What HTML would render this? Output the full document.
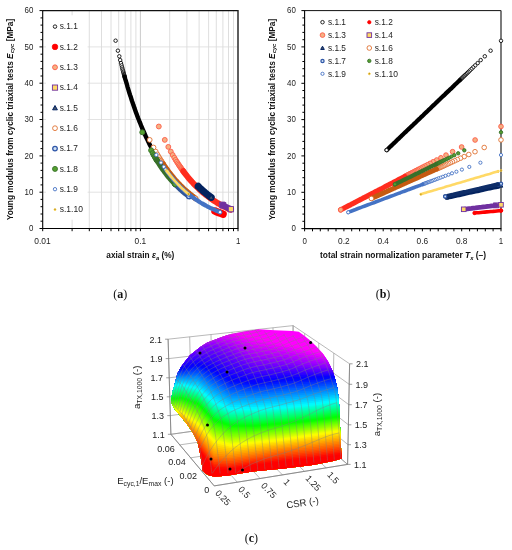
<!DOCTYPE html>
<html lang="en"><head><meta charset="utf-8"><title>Figure</title>
<style>html,body{margin:0;padding:0;background:#fff}svg{display:block}</style></head><body>
<svg width="512" height="550" viewBox="0 0 512 550">
<rect width="512" height="550" fill="#fff"/>
<defs>
<marker id="m1a" markerUnits="userSpaceOnUse" markerWidth="14" markerHeight="14" refX="7" refY="7" viewBox="0 0 14 14" overflow="visible"><circle cx="7" cy="7" r="1.75" fill="#fff" stroke="#000" stroke-width="0.85"/></marker>
<marker id="m2a" markerUnits="userSpaceOnUse" markerWidth="14" markerHeight="14" refX="7" refY="7" viewBox="0 0 14 14" overflow="visible"><circle cx="7" cy="7" r="2.80" fill="#ff0000" stroke="#ff0000" stroke-width="0.70"/></marker>
<marker id="m3a" markerUnits="userSpaceOnUse" markerWidth="14" markerHeight="14" refX="7" refY="7" viewBox="0 0 14 14" overflow="visible"><circle cx="7" cy="7" r="2.45" fill="#f4b183" stroke="#ff5a46" stroke-width="0.90"/></marker>
<marker id="m4a" markerUnits="userSpaceOnUse" markerWidth="14" markerHeight="14" refX="7" refY="7" viewBox="0 0 14 14" overflow="visible"><rect x="4.40" y="4.40" width="5.20" height="5.20" fill="#ffd966" stroke="#7030a0" stroke-width="0.9"/></marker>
<marker id="m5a" markerUnits="userSpaceOnUse" markerWidth="14" markerHeight="14" refX="7" refY="7" viewBox="0 0 14 14" overflow="visible"><path d="M7 4.60 L9.40 8.92 L4.60 8.92 Z" fill="#44546a" stroke="#002060" stroke-width="1"/></marker>
<marker id="m6a" markerUnits="userSpaceOnUse" markerWidth="14" markerHeight="14" refX="7" refY="7" viewBox="0 0 14 14" overflow="visible"><circle cx="7" cy="7" r="2.40" fill="#fff" stroke="#e07030" stroke-width="0.90"/></marker>
<marker id="m7a" markerUnits="userSpaceOnUse" markerWidth="14" markerHeight="14" refX="7" refY="7" viewBox="0 0 14 14" overflow="visible"><circle cx="7" cy="7" r="2.30" fill="#cfe0f3" stroke="#2f57a8" stroke-width="1.25"/></marker>
<marker id="m8a" markerUnits="userSpaceOnUse" markerWidth="14" markerHeight="14" refX="7" refY="7" viewBox="0 0 14 14" overflow="visible"><circle cx="7" cy="7" r="2.50" fill="#55a030" stroke="#38702a" stroke-width="0.90"/></marker>
<marker id="m9a" markerUnits="userSpaceOnUse" markerWidth="14" markerHeight="14" refX="7" refY="7" viewBox="0 0 14 14" overflow="visible"><circle cx="7" cy="7" r="1.70" fill="#fff" stroke="#4472c4" stroke-width="0.90"/></marker>
<marker id="m10a" markerUnits="userSpaceOnUse" markerWidth="14" markerHeight="14" refX="7" refY="7" viewBox="0 0 14 14" overflow="visible"><circle cx="7" cy="7" r="1.0" fill="#9c7400" stroke="#ffd552" stroke-width="0.8"/></marker>
<marker id="m1b" markerUnits="userSpaceOnUse" markerWidth="14" markerHeight="14" refX="7" refY="7" viewBox="0 0 14 14" overflow="visible"><circle cx="7" cy="7" r="1.75" fill="#fff" stroke="#000" stroke-width="0.85"/></marker>
<marker id="m2b" markerUnits="userSpaceOnUse" markerWidth="14" markerHeight="14" refX="7" refY="7" viewBox="0 0 14 14" overflow="visible"><circle cx="7" cy="7" r="1.70" fill="#ff0000" stroke="#ff0000" stroke-width="0.70"/></marker>
<marker id="m3b" markerUnits="userSpaceOnUse" markerWidth="14" markerHeight="14" refX="7" refY="7" viewBox="0 0 14 14" overflow="visible"><circle cx="7" cy="7" r="2.35" fill="#f4b183" stroke="#ff5a46" stroke-width="0.90"/></marker>
<marker id="m4b" markerUnits="userSpaceOnUse" markerWidth="14" markerHeight="14" refX="7" refY="7" viewBox="0 0 14 14" overflow="visible"><rect x="4.70" y="4.70" width="4.60" height="4.60" fill="#ffd966" stroke="#7030a0" stroke-width="0.9"/></marker>
<marker id="m5b" markerUnits="userSpaceOnUse" markerWidth="14" markerHeight="14" refX="7" refY="7" viewBox="0 0 14 14" overflow="visible"><path d="M7 5.20 L8.80 8.44 L5.20 8.44 Z" fill="#44546a" stroke="#002060" stroke-width="1"/></marker>
<marker id="m6b" markerUnits="userSpaceOnUse" markerWidth="14" markerHeight="14" refX="7" refY="7" viewBox="0 0 14 14" overflow="visible"><circle cx="7" cy="7" r="2.30" fill="#fff" stroke="#e07030" stroke-width="0.90"/></marker>
<marker id="m7b" markerUnits="userSpaceOnUse" markerWidth="14" markerHeight="14" refX="7" refY="7" viewBox="0 0 14 14" overflow="visible"><circle cx="7" cy="7" r="1.60" fill="#cfe0f3" stroke="#2f57a8" stroke-width="1.25"/></marker>
<marker id="m8b" markerUnits="userSpaceOnUse" markerWidth="14" markerHeight="14" refX="7" refY="7" viewBox="0 0 14 14" overflow="visible"><circle cx="7" cy="7" r="1.70" fill="#55a030" stroke="#38702a" stroke-width="0.90"/></marker>
<marker id="m9b" markerUnits="userSpaceOnUse" markerWidth="14" markerHeight="14" refX="7" refY="7" viewBox="0 0 14 14" overflow="visible"><circle cx="7" cy="7" r="1.60" fill="#fff" stroke="#4472c4" stroke-width="0.90"/></marker>
<marker id="m10b" markerUnits="userSpaceOnUse" markerWidth="14" markerHeight="14" refX="7" refY="7" viewBox="0 0 14 14" overflow="visible"><circle cx="7" cy="7" r="1.0" fill="#9c7400" stroke="#ffd552" stroke-width="0.8"/></marker>
</defs>
<g id="chart-a">
<path d="M72.1 10.6V228.5M89.3 10.6V228.5M101.5 10.6V228.5M111.0 10.6V228.5M118.7 10.6V228.5M125.2 10.6V228.5M130.9 10.6V228.5M135.9 10.6V228.5M169.7 10.6V228.5M186.9 10.6V228.5M199.1 10.6V228.5M208.6 10.6V228.5M216.3 10.6V228.5M222.9 10.6V228.5M228.5 10.6V228.5M233.5 10.6V228.5" stroke="#d6d6d6" stroke-width="0.8" fill="none"/>
<path d="M140.4 10.6V228.5" stroke="#c4c4c4" stroke-width="0.9" fill="none"/>
<path d="M42.7 192.2H238.0M42.7 155.9H238.0M42.7 119.5H238.0M42.7 83.2H238.0M42.7 46.9H238.0" stroke="#dcdcdc" stroke-width="0.8" fill="none"/>
<rect x="46" y="15.3" width="41.6" height="204.4" fill="#fff"/>
<clipPath id="ca"><rect x="42.7" y="10.6" width="195.3" height="217.9"/></clipPath>
<path d="M42.7 10.6H238.0" stroke="#111" stroke-width="1.1" fill="none"/>
<path d="M238.0 10.1V228.5" stroke="#222" stroke-width="1.45" fill="none"/>
<polyline points="115.6,40.7 117.9,50.7 119.3,56.3 120.2,60.1 121.0,63.1 121.6,65.4 122.1,67.4 122.5,69.1 122.9,70.5 123.3,71.8 123.6,73.0 123.9,74.1 124.2,75.0 124.4,75.9 124.6,76.7" fill="none" stroke="none" marker-start="url(#m1a)" marker-mid="url(#m1a)" marker-end="url(#m1a)"/>
<polyline points="124.6,76.7 125.2,78.9 125.9,81.2 126.5,83.2 127.1,85.2 127.6,87.1 128.3,89.3 128.9,91.3 129.5,93.3 130.1,95.2 130.8,97.1 131.4,99.1 132.0,101.0 132.7,102.9 133.3,104.8 134.0,106.7 134.6,108.6 135.3,110.5 136.0,112.4 136.7,114.3 137.4,116.2 138.1,118.1 138.9,120.0 139.6,121.9 140.4,123.7 141.1,125.6 141.9,127.4 142.7,129.3 143.5,131.2 144.3,133.0 145.1,134.8 145.9,136.7 146.8,138.5 147.7,140.3 148.5,142.1 149.4,143.9 150.3,145.7 151.3,147.5 152.2,149.3 152.6,150.1" fill="none" stroke="#000000" stroke-width="4.4" stroke-linecap="round" stroke-linejoin="round"/>
<polyline points="152.6,150.1 152.6,150.1" fill="none" stroke="none" marker-start="url(#m1a)"/>
<polyline points="215.1,211.1 215.1,211.1" fill="none" stroke="none" marker-start="url(#m2a)" marker-mid="url(#m2a)" marker-end="url(#m2a)"/>
<polyline points="215.1,211.1 217.0,211.9 218.9,212.6 220.7,213.3 222.6,214.0 223.0,214.1" fill="none" stroke="#ff0000" stroke-width="7.6" stroke-linecap="round" stroke-linejoin="round"/>
<polyline points="223.0,214.1 223.0,214.1" fill="none" stroke="none" marker-start="url(#m2a)"/>
<polyline points="158.8,126.5 164.8,139.9 168.3,146.9 170.8,151.6 172.7,155.0 174.3,157.7 175.6,159.9 176.8,161.7 177.8,163.3 178.7,164.7 179.5,165.9 180.3,167.0 181.0,168.0 181.6,168.9 182.2,169.8 182.8,170.5 183.3,171.2" fill="none" stroke="none" marker-start="url(#m3a)" marker-mid="url(#m3a)" marker-end="url(#m3a)"/>
<polyline points="183.3,171.2 184.7,173.1 186.3,175.1 187.6,176.8 189.0,178.5 190.5,180.2 191.9,181.8 193.3,183.3 194.8,184.8 196.3,186.3 197.7,187.7 199.2,189.2 200.7,190.5 202.3,191.9 203.8,193.2 205.4,194.5 207.0,195.7 208.6,196.9 210.2,198.1 211.8,199.3 213.5,200.4 215.2,201.5 216.9,202.6 218.6,203.6 220.4,204.6 222.1,205.6 223.9,206.5 225.7,207.4 227.5,208.3 229.3,209.2 230.6,209.7" fill="none" stroke="#ff2c1e" stroke-width="6.0" stroke-linecap="round" stroke-linejoin="round"/>
<polyline points="230.6,209.7 230.6,209.7" fill="none" stroke="none" marker-start="url(#m3a)"/>
<polyline points="222.0,204.7 223.0,205.3 223.1,205.3" fill="none" stroke="none" marker-start="url(#m4a)" marker-mid="url(#m4a)" marker-end="url(#m4a)"/>
<polyline points="223.1,205.3 224.8,206.3 226.6,207.2 228.4,208.1 230.3,208.9 230.9,209.2" fill="none" stroke="#7030a0" stroke-width="6.2" stroke-linecap="round" stroke-linejoin="round"/>
<polyline points="230.9,209.2 230.9,209.2" fill="none" stroke="none" marker-start="url(#m4a)"/>
<polyline points="197.5,185.6 198.2,186.3 198.2,186.3" fill="none" stroke="none" marker-start="url(#m5a)" marker-mid="url(#m5a)" marker-end="url(#m5a)"/>
<polyline points="198.2,186.3 199.6,187.7 201.1,189.1 202.6,190.5 204.1,191.8 205.7,193.1 207.2,194.4 208.8,195.7 210.5,196.9 211.2,197.4" fill="none" stroke="#04235f" stroke-width="7.0" stroke-linecap="round" stroke-linejoin="round"/>
<polyline points="211.2,197.4 211.2,197.4" fill="none" stroke="none" marker-start="url(#m5a)"/>
<polyline points="149.7,139.9 153.5,147.5 155.7,151.6 157.3,154.4 158.5,156.5 159.5,158.2 160.4,159.6 161.1,160.7 161.7,161.8 162.3,162.7 162.8,163.5 163.3,164.2" fill="none" stroke="none" marker-start="url(#m6a)" marker-mid="url(#m6a)" marker-end="url(#m6a)"/>
<polyline points="163.3,164.2 164.5,166.0 165.8,167.9 167.1,169.7 168.3,171.4 169.6,173.1 170.9,174.7 172.2,176.4 173.5,177.9 174.8,179.5 176.1,181.0 177.5,182.5 178.9,183.9 180.3,185.4 181.7,186.8 183.1,188.2 184.6,189.6 186.1,190.9 187.6,192.2 189.2,193.5 190.7,194.8 192.3,196.0 193.9,197.2 195.5,198.4" fill="none" stroke="#c55a11" stroke-width="5.6" stroke-linecap="round" stroke-linejoin="round"/>
<polyline points="195.5,198.4 195.5,198.4" fill="none" stroke="none" marker-start="url(#m6a)"/>
<polyline points="174.8,183.6 175.5,184.3 175.5,184.3" fill="none" stroke="none" marker-start="url(#m7a)" marker-mid="url(#m7a)" marker-end="url(#m7a)"/>
<polyline points="175.5,184.3 176.9,185.8 178.4,187.2 179.8,188.6 181.3,190.0 182.8,191.3 184.4,192.7 185.9,193.9 187.5,195.2 189.0,196.4" fill="none" stroke="#2f5597" stroke-width="5.6" stroke-linecap="round" stroke-linejoin="round"/>
<polyline points="189.0,196.4 189.0,196.4" fill="none" stroke="none" marker-start="url(#m7a)"/>
<polyline points="142.3,132.3 151.1,150.3 152.7,153.2 153.8,155.2 154.7,156.6 155.3,157.7 155.9,158.7 156.4,159.5 156.9,160.2" fill="none" stroke="none" marker-start="url(#m8a)" marker-mid="url(#m8a)" marker-end="url(#m8a)"/>
<polyline points="156.9,160.2 158.0,162.0 159.2,163.8 160.3,165.6 161.6,167.4 162.8,169.2 164.1,170.9 165.3,172.6 166.6,174.2 167.8,175.8 169.1,177.3 170.4,178.9 171.7,180.4 173.1,181.9 174.4,183.4 175.2,184.2" fill="none" stroke="#38702a" stroke-width="5.6" stroke-linecap="round" stroke-linejoin="round"/>
<polyline points="175.2,184.2 175.2,184.2" fill="none" stroke="none" marker-start="url(#m8a)"/>
<polyline points="156.3,154.9 161.0,162.6 163.8,166.8 165.7,169.6 167.2,171.6 168.5,173.3 169.5,174.6 170.4,175.7 171.2,176.7 171.9,177.6 172.6,178.4 173.2,179.1 173.7,179.7" fill="none" stroke="none" marker-start="url(#m9a)" marker-mid="url(#m9a)" marker-end="url(#m9a)"/>
<polyline points="173.7,179.7 175.1,181.3 176.6,182.9 178.2,184.5 179.6,186.0 181.2,187.6 182.7,189.0 184.2,190.4 185.8,191.8 187.4,193.1 188.9,194.4 190.5,195.6 192.1,196.9 193.7,198.0 195.4,199.2 197.0,200.3 198.7,201.4 200.4,202.5 202.1,203.5 203.9,204.5 205.7,205.5 207.4,206.5 209.2,207.4 211.0,208.3 212.9,209.1 214.7,209.9 216.5,210.7 218.4,211.5 220.1,212.2" fill="none" stroke="#4472c4" stroke-width="4.3" stroke-linecap="round" stroke-linejoin="round"/>
<polyline points="220.1,212.2 220.1,212.2" fill="none" stroke="none" marker-start="url(#m9a)"/>
<polyline points="166.4,170.4 167.0,171.3 167.1,171.3" fill="none" stroke="none" marker-start="url(#m10a)" marker-mid="url(#m10a)" marker-end="url(#m10a)"/>
<polyline points="167.1,171.3 168.3,172.9 169.5,174.5 170.8,176.1 172.1,177.7 173.5,179.3 174.8,180.9 176.2,182.4 177.6,183.9 179.0,185.3 180.4,186.8 181.9,188.2 183.4,189.6 184.9,191.0 186.5,192.4 188.0,193.6 188.6,194.1" fill="none" stroke="#ffd966" stroke-width="2.8" stroke-linecap="round" stroke-linejoin="round"/>
<polyline points="188.6,194.1 188.6,194.1" fill="none" stroke="none" marker-start="url(#m10a)"/>
<path d="M42.7 10.2V228.5H238.4" stroke="#000" stroke-width="1.1" fill="none"/>
<path d="M39.5 228.5H42.7M40.5 221.2H42.7M40.5 214.0H42.7M40.5 206.7H42.7M40.5 199.4H42.7M39.5 192.2H42.7M40.5 184.9H42.7M40.5 177.7H42.7M40.5 170.4H42.7M40.5 163.1H42.7M39.5 155.9H42.7M40.5 148.6H42.7M40.5 141.3H42.7M40.5 134.1H42.7M40.5 126.8H42.7M39.5 119.5H42.7M40.5 112.3H42.7M40.5 105.0H42.7M40.5 97.8H42.7M40.5 90.5H42.7M39.5 83.2H42.7M40.5 76.0H42.7M40.5 68.7H42.7M40.5 61.4H42.7M40.5 54.2H42.7M39.5 46.9H42.7M40.5 39.7H42.7M40.5 32.4H42.7M40.5 25.1H42.7M40.5 17.9H42.7M39.5 10.6H42.7M42.7 228.5v2.7M72.1 228.5v2.7M89.3 228.5v2.7M101.5 228.5v2.7M111.0 228.5v2.7M118.7 228.5v2.7M125.2 228.5v2.7M130.9 228.5v2.7M135.9 228.5v2.7M140.4 228.5v2.7M169.7 228.5v2.7M186.9 228.5v2.7M199.1 228.5v2.7M208.6 228.5v2.7M216.3 228.5v2.7M222.9 228.5v2.7M228.5 228.5v2.7M233.5 228.5v2.7M238.0 228.5v2.7" stroke="#000" stroke-width="1" fill="none"/>
<text x="33.4" y="231.3" font-family='"Liberation Sans", sans-serif' font-size="8.2" font-weight="normal" text-anchor="end" fill="#222" textLength="4.4" lengthAdjust="spacingAndGlyphs">0</text>
<text x="33.4" y="195.0" font-family='"Liberation Sans", sans-serif' font-size="8.2" font-weight="normal" text-anchor="end" fill="#222" textLength="8.8" lengthAdjust="spacingAndGlyphs">10</text>
<text x="33.4" y="158.7" font-family='"Liberation Sans", sans-serif' font-size="8.2" font-weight="normal" text-anchor="end" fill="#222" textLength="8.8" lengthAdjust="spacingAndGlyphs">20</text>
<text x="33.4" y="122.3" font-family='"Liberation Sans", sans-serif' font-size="8.2" font-weight="normal" text-anchor="end" fill="#222" textLength="8.8" lengthAdjust="spacingAndGlyphs">30</text>
<text x="33.4" y="86.0" font-family='"Liberation Sans", sans-serif' font-size="8.2" font-weight="normal" text-anchor="end" fill="#222" textLength="8.8" lengthAdjust="spacingAndGlyphs">40</text>
<text x="33.4" y="49.7" font-family='"Liberation Sans", sans-serif' font-size="8.2" font-weight="normal" text-anchor="end" fill="#222" textLength="8.8" lengthAdjust="spacingAndGlyphs">50</text>
<text x="33.4" y="13.4" font-family='"Liberation Sans", sans-serif' font-size="8.2" font-weight="normal" text-anchor="end" fill="#222" textLength="8.8" lengthAdjust="spacingAndGlyphs">60</text>
<text x="42.5" y="243.8" font-family='"Liberation Sans", sans-serif' font-size="8.2" font-weight="normal" text-anchor="middle" fill="#222" textLength="16.4" lengthAdjust="spacingAndGlyphs">0.01</text>
<text x="140.4" y="243.8" font-family='"Liberation Sans", sans-serif' font-size="8.2" font-weight="normal" text-anchor="middle" fill="#222" textLength="11.6" lengthAdjust="spacingAndGlyphs">0.1</text>
<text x="238.3" y="243.8" font-family='"Liberation Sans", sans-serif' font-size="8.2" font-weight="normal" text-anchor="middle" fill="#222" textLength="4.4" lengthAdjust="spacingAndGlyphs">1</text>
<text transform="translate(12.7 119.5) rotate(-90)" font-family='"Liberation Sans", sans-serif' font-size="8.6" font-weight="bold" text-anchor="middle" fill="#111" textLength="201.5" lengthAdjust="spacingAndGlyphs">Young modulus from cyclic  triaxial tests  <tspan font-style="italic">E</tspan><tspan font-style="italic" font-size="6" dy="1.6">cyc</tspan><tspan dy="-1.6"> [MPa]</tspan></text>
<text x="140.3" y="258.3" font-family='"Liberation Sans", sans-serif' font-size="8.6" font-weight="bold" text-anchor="middle" fill="#111" textLength="68" lengthAdjust="spacingAndGlyphs">axial strain <tspan font-style="italic">ε</tspan><tspan font-style="italic" font-size="6" dy="1.6">a</tspan><tspan dy="-1.6"> (%)</tspan></text>
<polyline points="55,26.6 55,26.6" fill="none" stroke="none" marker-start="url(#m1a)"/>
<text x="59.7" y="29.3" font-family='"Liberation Sans", sans-serif' font-size="8.2" font-weight="normal" text-anchor="start" fill="#222" textLength="18.1" lengthAdjust="spacingAndGlyphs">s.1.1</text>
<polyline points="55,46.9 55,46.9" fill="none" stroke="none" marker-start="url(#m2a)"/>
<text x="59.7" y="49.6" font-family='"Liberation Sans", sans-serif' font-size="8.2" font-weight="normal" text-anchor="start" fill="#222" textLength="18.1" lengthAdjust="spacingAndGlyphs">s.1.2</text>
<polyline points="55,67.3 55,67.3" fill="none" stroke="none" marker-start="url(#m3a)"/>
<text x="59.7" y="70.0" font-family='"Liberation Sans", sans-serif' font-size="8.2" font-weight="normal" text-anchor="start" fill="#222" textLength="18.1" lengthAdjust="spacingAndGlyphs">s.1.3</text>
<polyline points="55,87.6 55,87.6" fill="none" stroke="none" marker-start="url(#m4a)"/>
<text x="59.7" y="90.3" font-family='"Liberation Sans", sans-serif' font-size="8.2" font-weight="normal" text-anchor="start" fill="#222" textLength="18.1" lengthAdjust="spacingAndGlyphs">s.1.4</text>
<polyline points="55,107.9 55,107.9" fill="none" stroke="none" marker-start="url(#m5a)"/>
<text x="59.7" y="110.6" font-family='"Liberation Sans", sans-serif' font-size="8.2" font-weight="normal" text-anchor="start" fill="#222" textLength="18.1" lengthAdjust="spacingAndGlyphs">s.1.5</text>
<polyline points="55,128.2 55,128.2" fill="none" stroke="none" marker-start="url(#m6a)"/>
<text x="59.7" y="130.9" font-family='"Liberation Sans", sans-serif' font-size="8.2" font-weight="normal" text-anchor="start" fill="#222" textLength="18.1" lengthAdjust="spacingAndGlyphs">s.1.6</text>
<polyline points="55,148.6 55,148.6" fill="none" stroke="none" marker-start="url(#m7a)"/>
<text x="59.7" y="151.3" font-family='"Liberation Sans", sans-serif' font-size="8.2" font-weight="normal" text-anchor="start" fill="#222" textLength="18.1" lengthAdjust="spacingAndGlyphs">s.1.7</text>
<polyline points="55,168.9 55,168.9" fill="none" stroke="none" marker-start="url(#m8a)"/>
<text x="59.7" y="171.6" font-family='"Liberation Sans", sans-serif' font-size="8.2" font-weight="normal" text-anchor="start" fill="#222" textLength="18.1" lengthAdjust="spacingAndGlyphs">s.1.8</text>
<polyline points="55,189.2 55,189.2" fill="none" stroke="none" marker-start="url(#m9a)"/>
<text x="59.7" y="191.9" font-family='"Liberation Sans", sans-serif' font-size="8.2" font-weight="normal" text-anchor="start" fill="#222" textLength="18.1" lengthAdjust="spacingAndGlyphs">s.1.9</text>
<polyline points="55,209.6 55,209.6" fill="none" stroke="none" marker-start="url(#m10a)"/>
<text x="59.7" y="212.3" font-family='"Liberation Sans", sans-serif' font-size="8.2" font-weight="normal" text-anchor="start" fill="#222" textLength="23.2" lengthAdjust="spacingAndGlyphs">s.1.10</text>
</g>
<g id="chart-b">
<path d="M304.6 10.6H501.0" stroke="#111" stroke-width="1" fill="none"/>
<path d="M501.0 10.6V228.6" stroke="#444" stroke-width="1.4" fill="none"/>
<polyline points="501.0,40.8 490.6,50.7 484.8,56.3 480.7,60.1 477.7,63.1 475.2,65.4 473.1,67.4 471.4,69.1 469.8,70.6 468.5,71.9 467.3,73.0 466.2,74.1 465.1,75.1 464.2,75.9 463.3,76.8 462.5,77.5 461.8,78.3 461.1,78.9 460.4,79.6 459.8,80.2" fill="none" stroke="none" marker-start="url(#m1b)" marker-mid="url(#m1b)" marker-end="url(#m1b)"/>
<polyline points="459.8,80.2 458.1,81.8 456.6,83.2 454.9,84.8 453.5,86.2 451.9,87.8 450.2,89.3 448.6,90.9 447.0,92.4 445.4,93.9 443.9,95.4 442.4,96.8 440.8,98.3 439.3,99.7 437.9,101.1 436.4,102.5 434.9,104.0 433.4,105.4 431.9,106.8 430.5,108.2 429.0,109.6 427.6,111.0 426.1,112.4 424.6,113.8 423.2,115.2 421.7,116.6 420.3,118.0 418.8,119.4 417.3,120.8 415.9,122.2 414.4,123.6 413.0,125.0 411.5,126.4 410.0,127.8 408.6,129.1 407.1,130.5 405.7,131.9 404.2,133.3 402.7,134.7 401.3,136.1 399.8,137.5 398.4,138.9 396.9,140.3 395.5,141.7 394.0,143.1 392.5,144.5 391.1,145.9 389.6,147.3 388.2,148.7 386.7,150.1 386.6,150.1" fill="none" stroke="#000000" stroke-width="4.3" stroke-linecap="round" stroke-linejoin="round"/>
<polyline points="386.6,150.1 386.6,150.1" fill="none" stroke="none" marker-start="url(#m1b)"/>
<polyline points="501.0,210.6 501.0,210.6" fill="none" stroke="none" marker-start="url(#m2b)" marker-mid="url(#m2b)" marker-end="url(#m2b)"/>
<polyline points="501.0,210.6 499.0,210.8 496.9,211.0 494.9,211.2 492.9,211.4 490.8,211.5 488.8,211.7 486.8,211.9 484.7,212.1 482.7,212.3 480.7,212.5 478.6,212.7 476.6,212.8 474.6,213.0 474.5,213.0" fill="none" stroke="#ff0000" stroke-width="3.6" stroke-linecap="round" stroke-linejoin="round"/>
<polyline points="474.5,213.0 474.5,213.0" fill="none" stroke="none" marker-start="url(#m2b)"/>
<polyline points="501.0,126.5 475.1,140.0 461.6,147.0 452.6,151.7 446.0,155.1 440.9,157.8 436.7,160.0 433.1,161.8 430.1,163.4 427.4,164.8 425.0,166.0 422.9,167.1 421.0,168.1 419.2,169.0 417.6,169.8 416.2,170.6 414.8,171.3 413.5,172.0 412.3,172.6 411.2,173.2 410.1,173.7 409.1,174.3 408.2,174.7 407.3,175.2 406.5,175.7 405.6,176.1 404.9,176.5" fill="none" stroke="none" marker-start="url(#m3b)" marker-mid="url(#m3b)" marker-end="url(#m3b)"/>
<polyline points="404.9,176.5 402.7,177.6 400.8,178.6 398.6,179.7 396.7,180.7 394.5,181.8 392.7,182.8 390.7,183.8 388.7,184.9 386.7,185.9 384.7,186.9 382.9,187.9 381.1,188.9 379.2,189.8 377.4,190.8 375.6,191.7 373.7,192.7 371.9,193.6 370.1,194.5 368.3,195.5 366.6,196.4 364.8,197.3 363.0,198.2 361.2,199.2 359.4,200.1 357.6,201.0 355.8,202.0 354.1,202.9 352.3,203.8 350.5,204.8 348.7,205.7 346.9,206.6 345.1,207.5 343.3,208.5 341.5,209.4 340.7,209.8" fill="none" stroke="#ff2c1e" stroke-width="5.2" stroke-linecap="round" stroke-linejoin="round"/>
<polyline points="340.7,209.8 340.7,209.8" fill="none" stroke="none" marker-start="url(#m3b)"/>
<polyline points="501.0,204.8 496.1,205.4 496.0,205.4" fill="none" stroke="none" marker-start="url(#m4b)" marker-mid="url(#m4b)" marker-end="url(#m4b)"/>
<polyline points="496.0,205.4 493.9,205.7 491.9,205.9 489.8,206.2 487.8,206.4 485.7,206.7 483.7,206.9 481.6,207.2 479.6,207.4 477.5,207.6 475.5,207.9 473.4,208.1 471.4,208.4 469.3,208.6 467.2,208.9 465.2,209.1 463.7,209.3" fill="none" stroke="#7030a0" stroke-width="4.8" stroke-linecap="round" stroke-linejoin="round"/>
<polyline points="463.7,209.3 463.7,209.3" fill="none" stroke="none" marker-start="url(#m4b)"/>
<polyline points="501.0,185.7 498.1,186.4 497.9,186.4" fill="none" stroke="none" marker-start="url(#m5b)" marker-mid="url(#m5b)" marker-end="url(#m5b)"/>
<polyline points="497.9,186.4 495.8,186.9 493.8,187.3 491.8,187.7 489.7,188.2 487.7,188.6 485.6,189.1 483.6,189.5 481.5,190.0 479.5,190.4 477.5,190.9 475.4,191.3 473.4,191.8 471.3,192.2 469.3,192.6 467.2,193.1 465.2,193.5 463.2,194.0 461.1,194.4 459.1,194.9 457.0,195.3 455.0,195.8 452.9,196.2 450.9,196.7 448.9,197.1 447.0,197.5" fill="none" stroke="#04235f" stroke-width="4.6" stroke-linecap="round" stroke-linejoin="round"/>
<polyline points="447.0,197.5 447.0,197.5" fill="none" stroke="none" marker-start="url(#m5b)"/>
<polyline points="501.0,139.9 484.2,147.5 475.0,151.7 468.8,154.5 464.2,156.6 460.5,158.2 457.4,159.6 454.8,160.8 452.5,161.8 450.5,162.7 448.7,163.5 447.1,164.3 445.7,164.9 444.3,165.5 443.1,166.1 441.9,166.6 440.9,167.1 439.9,167.5 438.9,168.0 438.0,168.4 437.2,168.7 436.4,169.1" fill="none" stroke="none" marker-start="url(#m6b)" marker-mid="url(#m6b)" marker-end="url(#m6b)"/>
<polyline points="436.4,169.1 434.3,170.1 432.4,170.9 430.2,171.9 428.3,172.8 426.2,173.7 424.1,174.6 422.3,175.5 420.4,176.3 418.6,177.2 416.6,178.1 414.7,178.9 412.8,179.8 410.9,180.6 409.0,181.5 407.2,182.3 405.3,183.1 403.5,184.0 401.7,184.8 399.8,185.6 398.0,186.5 396.1,187.3 394.3,188.1 392.4,189.0 390.6,189.8 388.7,190.6 386.9,191.5 385.1,192.3 383.2,193.1 381.4,193.9 379.6,194.8 377.7,195.6 375.9,196.4 374.0,197.3 372.2,198.1 371.4,198.5" fill="none" stroke="#c55a11" stroke-width="5.0" stroke-linecap="round" stroke-linejoin="round"/>
<polyline points="371.4,198.5 371.4,198.5" fill="none" stroke="none" marker-start="url(#m6b)"/>
<polyline points="501.0,183.7 498.1,184.4 497.9,184.4" fill="none" stroke="none" marker-start="url(#m7b)" marker-mid="url(#m7b)" marker-end="url(#m7b)"/>
<polyline points="497.9,184.4 495.8,184.9 493.7,185.4 491.5,185.9 489.4,186.3 487.3,186.8 485.2,187.3 483.1,187.8 481.0,188.3 478.9,188.8 476.7,189.2 474.6,189.7 472.5,190.2 470.4,190.7 468.3,191.2 466.2,191.7 464.1,192.1 462.0,192.6 459.8,193.1 457.7,193.6 455.6,194.1 453.5,194.6 451.4,195.0 449.3,195.5 447.2,196.0 445.2,196.4" fill="none" stroke="#0e2d68" stroke-width="4.2" stroke-linecap="round" stroke-linejoin="round"/>
<polyline points="445.2,196.4 445.2,196.4" fill="none" stroke="none" marker-start="url(#m7b)"/>
<polyline points="501.0,132.3 464.3,150.3 458.2,153.3 454.3,155.2 451.4,156.6 449.0,157.8 447.1,158.8 445.4,159.6 443.9,160.3 442.6,161.0 441.3,161.6 440.2,162.1 439.2,162.6 438.3,163.1 437.4,163.5 436.6,163.9 435.8,164.3" fill="none" stroke="none" marker-start="url(#m8b)" marker-mid="url(#m8b)" marker-end="url(#m8b)"/>
<polyline points="435.8,164.3 433.7,165.3 431.9,166.2 429.8,167.2 428.0,168.1 426.0,169.1 423.9,170.1 421.9,171.1 419.8,172.1 417.9,173.1 415.9,174.0 414.1,174.9 412.2,175.8 410.3,176.8 408.4,177.7 406.6,178.6 404.7,179.5 402.8,180.4 401.0,181.3 399.2,182.2 397.4,183.1 395.6,184.0 394.9,184.3" fill="none" stroke="#38702a" stroke-width="4.2" stroke-linecap="round" stroke-linejoin="round"/>
<polyline points="394.9,184.3 394.9,184.3" fill="none" stroke="none" marker-start="url(#m8b)"/>
<polyline points="501.0,155.0 480.4,162.7 469.3,166.9 461.9,169.6 456.4,171.7 452.0,173.3 448.5,174.7 445.4,175.8 442.8,176.8 440.5,177.7 438.4,178.4 436.6,179.1 434.9,179.8 433.4,180.3 431.9,180.9 430.6,181.4 429.4,181.8 428.3,182.2 427.2,182.6 426.2,183.0 425.3,183.4 424.4,183.7 423.5,184.0 422.7,184.3" fill="none" stroke="none" marker-start="url(#m9b)" marker-mid="url(#m9b)" marker-end="url(#m9b)"/>
<polyline points="422.7,184.3 420.5,185.2 418.6,185.9 416.3,186.7 414.3,187.5 412.2,188.3 410.3,189.0 408.3,189.7 406.3,190.5 404.4,191.2 402.4,191.9 400.4,192.7 398.5,193.4 396.5,194.1 394.6,194.9 392.7,195.6 390.8,196.3 388.9,197.0 387.0,197.7 385.1,198.4 383.2,199.1 381.3,199.9 379.4,200.6 377.5,201.3 375.6,202.0 373.8,202.7 371.9,203.4 370.0,204.1 368.1,204.8 366.2,205.5 364.3,206.2 362.4,206.9 360.6,207.6 358.7,208.3 356.8,209.0 354.9,209.8 353.0,210.5 351.1,211.2 349.2,211.9 348.2,212.3" fill="none" stroke="#4472c4" stroke-width="3.6" stroke-linecap="round" stroke-linejoin="round"/>
<polyline points="348.2,212.3 348.2,212.3" fill="none" stroke="none" marker-start="url(#m9b)"/>
<polyline points="501.0,170.5 498.1,171.3 497.8,171.4" fill="none" stroke="none" marker-start="url(#m10b)" marker-mid="url(#m10b)" marker-end="url(#m10b)"/>
<polyline points="497.8,171.4 495.7,172.0 493.7,172.6 491.6,173.2 489.6,173.9 487.5,174.5 485.4,175.1 483.4,175.7 481.3,176.3 479.3,176.9 477.2,177.5 475.2,178.1 473.1,178.7 471.0,179.3 469.0,179.9 466.9,180.6 464.9,181.2 462.8,181.8 460.7,182.4 458.7,183.0 456.6,183.6 454.6,184.2 452.5,184.8 450.5,185.4 448.4,186.0 446.3,186.6 444.3,187.3 442.2,187.9 440.2,188.5 438.1,189.1 436.0,189.7 434.0,190.3 431.9,190.9 429.9,191.5 427.8,192.1 425.8,192.7 423.7,193.3 421.6,194.0 420.9,194.2" fill="none" stroke="#ffd966" stroke-width="2.6" stroke-linecap="round" stroke-linejoin="round"/>
<polyline points="420.9,194.2 420.9,194.2" fill="none" stroke="none" marker-start="url(#m10b)"/>
<path d="M304.6 10.2V228.6H501.4" stroke="#000" stroke-width="1.1" fill="none"/>
<path d="M301.40000000000003 228.6H304.6M302.40000000000003 221.3H304.6M302.40000000000003 214.1H304.6M302.40000000000003 206.8H304.6M302.40000000000003 199.5H304.6M301.40000000000003 192.3H304.6M302.40000000000003 185.0H304.6M302.40000000000003 177.7H304.6M302.40000000000003 170.5H304.6M302.40000000000003 163.2H304.6M301.40000000000003 155.9H304.6M302.40000000000003 148.7H304.6M302.40000000000003 141.4H304.6M302.40000000000003 134.1H304.6M302.40000000000003 126.9H304.6M301.40000000000003 119.6H304.6M302.40000000000003 112.3H304.6M302.40000000000003 105.1H304.6M302.40000000000003 97.8H304.6M302.40000000000003 90.5H304.6M301.40000000000003 83.3H304.6M302.40000000000003 76.0H304.6M302.40000000000003 68.7H304.6M302.40000000000003 61.5H304.6M302.40000000000003 54.2H304.6M301.40000000000003 46.9H304.6M302.40000000000003 39.7H304.6M302.40000000000003 32.4H304.6M302.40000000000003 25.1H304.6M302.40000000000003 17.9H304.6M301.40000000000003 10.6H304.6M304.6 228.6v2.7M312.5 228.6v2.7M320.3 228.6v2.7M328.2 228.6v2.7M336.0 228.6v2.7M343.9 228.6v2.7M351.7 228.6v2.7M359.6 228.6v2.7M367.4 228.6v2.7M375.3 228.6v2.7M383.2 228.6v2.7M391.0 228.6v2.7M398.9 228.6v2.7M406.7 228.6v2.7M414.6 228.6v2.7M422.4 228.6v2.7M430.3 228.6v2.7M438.2 228.6v2.7M446.0 228.6v2.7M453.9 228.6v2.7M461.7 228.6v2.7M469.6 228.6v2.7M477.4 228.6v2.7M485.3 228.6v2.7M493.1 228.6v2.7M501.0 228.6v2.7" stroke="#000" stroke-width="1" fill="none"/>
<text x="295.8" y="231.4" font-family='"Liberation Sans", sans-serif' font-size="8.2" font-weight="normal" text-anchor="end" fill="#222" textLength="4.4" lengthAdjust="spacingAndGlyphs">0</text>
<text x="295.8" y="195.1" font-family='"Liberation Sans", sans-serif' font-size="8.2" font-weight="normal" text-anchor="end" fill="#222" textLength="8.8" lengthAdjust="spacingAndGlyphs">10</text>
<text x="295.8" y="158.7" font-family='"Liberation Sans", sans-serif' font-size="8.2" font-weight="normal" text-anchor="end" fill="#222" textLength="8.8" lengthAdjust="spacingAndGlyphs">20</text>
<text x="295.8" y="122.4" font-family='"Liberation Sans", sans-serif' font-size="8.2" font-weight="normal" text-anchor="end" fill="#222" textLength="8.8" lengthAdjust="spacingAndGlyphs">30</text>
<text x="295.8" y="86.1" font-family='"Liberation Sans", sans-serif' font-size="8.2" font-weight="normal" text-anchor="end" fill="#222" textLength="8.8" lengthAdjust="spacingAndGlyphs">40</text>
<text x="295.8" y="49.7" font-family='"Liberation Sans", sans-serif' font-size="8.2" font-weight="normal" text-anchor="end" fill="#222" textLength="8.8" lengthAdjust="spacingAndGlyphs">50</text>
<text x="295.8" y="13.4" font-family='"Liberation Sans", sans-serif' font-size="8.2" font-weight="normal" text-anchor="end" fill="#222" textLength="8.8" lengthAdjust="spacingAndGlyphs">60</text>
<text x="304.6" y="243.6" font-family='"Liberation Sans", sans-serif' font-size="8.2" font-weight="normal" text-anchor="middle" fill="#222" textLength="4.4" lengthAdjust="spacingAndGlyphs">0</text>
<text x="343.9" y="243.6" font-family='"Liberation Sans", sans-serif' font-size="8.2" font-weight="normal" text-anchor="middle" fill="#222" textLength="11.6" lengthAdjust="spacingAndGlyphs">0.2</text>
<text x="383.2" y="243.6" font-family='"Liberation Sans", sans-serif' font-size="8.2" font-weight="normal" text-anchor="middle" fill="#222" textLength="11.6" lengthAdjust="spacingAndGlyphs">0.4</text>
<text x="422.4" y="243.6" font-family='"Liberation Sans", sans-serif' font-size="8.2" font-weight="normal" text-anchor="middle" fill="#222" textLength="11.6" lengthAdjust="spacingAndGlyphs">0.6</text>
<text x="461.7" y="243.6" font-family='"Liberation Sans", sans-serif' font-size="8.2" font-weight="normal" text-anchor="middle" fill="#222" textLength="11.6" lengthAdjust="spacingAndGlyphs">0.8</text>
<text x="501.0" y="243.6" font-family='"Liberation Sans", sans-serif' font-size="8.2" font-weight="normal" text-anchor="middle" fill="#222" textLength="4.4" lengthAdjust="spacingAndGlyphs">1</text>
<text transform="translate(274.8 119.5) rotate(-90)" font-family='"Liberation Sans", sans-serif' font-size="8.6" font-weight="bold" text-anchor="middle" fill="#111" textLength="201.5" lengthAdjust="spacingAndGlyphs">Young modulus from cyclic  triaxial tests  <tspan font-style="italic">E</tspan><tspan font-style="italic" font-size="6" dy="1.6">cyc</tspan><tspan dy="-1.6"> [MPa]</tspan></text>
<text x="403" y="258.2" font-family='"Liberation Sans", sans-serif' font-size="8.6" font-weight="bold" text-anchor="middle" fill="#111" textLength="166" lengthAdjust="spacingAndGlyphs">total strain normalization parameter <tspan font-style="italic">T</tspan><tspan font-style="italic" font-size="6" dy="1.6">x</tspan><tspan dy="-1.6"> (–)</tspan></text>
<polyline points="322.5,22.2 322.5,22.2" fill="none" stroke="none" marker-start="url(#m1b)"/>
<text x="327.9" y="24.9" font-family='"Liberation Sans", sans-serif' font-size="8.2" font-weight="normal" text-anchor="start" fill="#222" textLength="18.1" lengthAdjust="spacingAndGlyphs">s.1.1</text>
<polyline points="369.3,22.2 369.3,22.2" fill="none" stroke="none" marker-start="url(#m2b)"/>
<text x="374.7" y="24.9" font-family='"Liberation Sans", sans-serif' font-size="8.2" font-weight="normal" text-anchor="start" fill="#222" textLength="18.1" lengthAdjust="spacingAndGlyphs">s.1.2</text>
<polyline points="322.5,35.1 322.5,35.1" fill="none" stroke="none" marker-start="url(#m3b)"/>
<text x="327.9" y="37.8" font-family='"Liberation Sans", sans-serif' font-size="8.2" font-weight="normal" text-anchor="start" fill="#222" textLength="18.1" lengthAdjust="spacingAndGlyphs">s.1.3</text>
<polyline points="369.3,35.1 369.3,35.1" fill="none" stroke="none" marker-start="url(#m4b)"/>
<text x="374.7" y="37.8" font-family='"Liberation Sans", sans-serif' font-size="8.2" font-weight="normal" text-anchor="start" fill="#222" textLength="18.1" lengthAdjust="spacingAndGlyphs">s.1.4</text>
<polyline points="322.5,48.0 322.5,48.0" fill="none" stroke="none" marker-start="url(#m5b)"/>
<text x="327.9" y="50.7" font-family='"Liberation Sans", sans-serif' font-size="8.2" font-weight="normal" text-anchor="start" fill="#222" textLength="18.1" lengthAdjust="spacingAndGlyphs">s.1.5</text>
<polyline points="369.3,48.0 369.3,48.0" fill="none" stroke="none" marker-start="url(#m6b)"/>
<text x="374.7" y="50.7" font-family='"Liberation Sans", sans-serif' font-size="8.2" font-weight="normal" text-anchor="start" fill="#222" textLength="18.1" lengthAdjust="spacingAndGlyphs">s.1.6</text>
<polyline points="322.5,60.9 322.5,60.9" fill="none" stroke="none" marker-start="url(#m7b)"/>
<text x="327.9" y="63.6" font-family='"Liberation Sans", sans-serif' font-size="8.2" font-weight="normal" text-anchor="start" fill="#222" textLength="18.1" lengthAdjust="spacingAndGlyphs">s.1.7</text>
<polyline points="369.3,60.9 369.3,60.9" fill="none" stroke="none" marker-start="url(#m8b)"/>
<text x="374.7" y="63.6" font-family='"Liberation Sans", sans-serif' font-size="8.2" font-weight="normal" text-anchor="start" fill="#222" textLength="18.1" lengthAdjust="spacingAndGlyphs">s.1.8</text>
<polyline points="322.5,73.8 322.5,73.8" fill="none" stroke="none" marker-start="url(#m9b)"/>
<text x="327.9" y="76.5" font-family='"Liberation Sans", sans-serif' font-size="8.2" font-weight="normal" text-anchor="start" fill="#222" textLength="18.1" lengthAdjust="spacingAndGlyphs">s.1.9</text>
<polyline points="369.3,73.8 369.3,73.8" fill="none" stroke="none" marker-start="url(#m10b)"/>
<text x="374.7" y="76.5" font-family='"Liberation Sans", sans-serif' font-size="8.2" font-weight="normal" text-anchor="start" fill="#222" textLength="23.2" lengthAdjust="spacingAndGlyphs">s.1.10</text>
</g>
<text x="120.2" y="298.1" font-family='"Liberation Serif", serif' font-size="12" text-anchor="middle" fill="#111">(<tspan font-weight="bold">a</tspan>)</text>
<text x="383" y="298.1" font-family='"Liberation Serif", serif' font-size="12" text-anchor="middle" fill="#111">(<tspan font-weight="bold">b</tspan>)</text>
<text x="251.3" y="541.6" font-family='"Liberation Serif", serif' font-size="12" text-anchor="middle" fill="#111">(<tspan font-weight="bold">c</tspan>)</text>
<g id="chart-c">
<path d="M170.9 434.3L292.7 417.1M292.7 417.1L347.6 464.4M170.3 415.6L292.7 399.1M292.7 399.1L348.0 444.7M169.8 396.8L292.8 381.0M292.8 381.0L348.4 424.8M169.2 377.8L292.9 362.7M292.9 362.7L348.8 404.7M168.7 358.6L293.0 344.3M293.0 344.3L349.2 384.3M168.1 339.2L293.1 325.6M293.1 325.6L349.6 363.8M170.9 434.3L168.1 339.2M214.2 485.9L170.9 434.3M191.9 431.3L189.7 336.8M237.3 482.2L191.9 431.3M212.6 428.4L211.0 334.5M260.1 478.5L212.6 428.4M233.1 425.5L232.0 332.2M282.5 474.9L233.1 425.5M253.2 422.6L252.6 330.0M304.5 471.3L253.2 422.6M273.1 419.8L273.0 327.8M326.2 467.8L273.1 419.8M292.7 417.1L293.1 325.6M347.6 464.4L292.7 417.1M347.6 464.4L349.6 363.8M214.2 485.9L347.6 464.4M332.2 451.1L333.8 353.1M202.0 471.4L332.2 451.1M317.7 438.6L318.8 343.0M190.6 457.8L317.7 438.6M304.0 426.8L304.7 333.5M179.7 444.9L304.0 426.8M292.7 417.1L293.1 325.6M170.9 434.3L292.7 417.1" stroke="#8a8a8a" stroke-width="0.6" fill="none"/>
<clipPath id="sil"><path d="M170.9 402L172.5 392L175 382.9L177.5 373.6L180.8 367.3L185.3 361.2L190 355.2L196 350.6L201 346.4L207 342.8L214.7 339.7L221 337.2L227.5 335L236 333L244.8 331.2L258.4 329.3L274.8 330.3L292.5 331L298.8 331.8L304 335.5L309 339.5L316 346L322.7 353.2L328 361.5L332.5 370.8L335.3 379.5L337.4 388.4L338.6 398L339.3 407.9L339.8 420L340.5 440L341.8 458.6L333 461L312.7 464.9L283.6 468.4L254.5 471.3L240 473.5L228 475.4L220 476.3L214.5 476.4L210 475.8L206 473.8L202.7 470.5L201.8 464L201.0 458.8L199.6 451L197.9 443.2L195.2 437L192 431.5L188.6 426.3L185.2 421.7L180 415.5L175.4 410L172.8 406Z"/></clipPath>
<g clip-path="url(#sil)">
<rect x="160" y="320" width="190" height="165" fill="#ff00ff"/>
<path d="M166 316.0L170 318.0L181.4 330.0L197.7 334.0L214 332.0L230.5 332.0L254.5 338.0L283.6 344.0L312.7 351.0L333 356.0L345 357.0L345 486L166 486Z" fill="#f700ff"/>
<path d="M166 319.6L170 321.6L181.4 332.9L197.7 335.9L214 333.9L230.5 334.5L254.5 341.2L283.6 346.6L312.7 353.1L333 357.6L345 358.5L345 486L166 486Z" fill="#e600ff"/>
<path d="M166 323.2L170 325.2L181.4 335.9L197.7 337.7L214 335.7L230.5 337.1L254.5 344.4L283.6 349.2L312.7 355.1L333 359.2L345 360.1L345 486L166 486Z" fill="#d500ff"/>
<path d="M166 326.8L170 328.8L181.4 338.8L197.7 339.6L214 337.6L230.5 339.6L254.5 347.6L283.6 351.8L312.7 357.2L333 360.8L345 361.6L345 486L166 486Z" fill="#c300ff"/>
<path d="M166 330.4L170 332.4L181.4 341.7L197.7 341.5L214 339.5L230.5 342.1L254.5 350.8L283.6 354.4L312.7 359.3L333 362.4L345 363.1L345 486L166 486Z" fill="#b300ff"/>
<path d="M166 334.0L170 336.0L181.4 344.7L197.7 343.3L214 341.3L230.5 344.7L254.5 354.0L283.6 357.0L312.7 361.3L333 364.0L345 364.7L345 486L166 486Z" fill="#a200ff"/>
<path d="M166 337.6L170 339.6L181.4 347.6L197.7 345.2L214 343.2L230.5 347.2L254.5 357.2L283.6 359.6L312.7 363.4L333 365.6L345 366.2L345 486L166 486Z" fill="#9000ff"/>
<path d="M166 341.2L170 343.2L181.4 350.5L197.7 347.1L214 345.1L230.5 349.7L254.5 360.4L283.6 362.2L312.7 365.5L333 367.2L345 367.7L345 486L166 486Z" fill="#8000ff"/>
<path d="M166 344.5L170 346.5L181.4 353.1L197.7 349.1L214 347.7L230.5 352.9L254.5 363.4L283.6 364.6L312.7 367.3L333 368.6L345 369.0L345 486L166 486Z" fill="#6f00ff"/>
<path d="M166 347.6L170 349.6L181.4 355.4L197.7 351.4L214 351.0L230.5 356.8L254.5 366.1L283.6 366.7L312.7 368.8L333 369.7L345 370.0L345 486L166 486Z" fill="#5d00ff"/>
<path d="M166 350.7L170 352.7L181.4 357.7L197.7 353.7L214 354.3L230.5 360.7L254.5 368.8L283.6 368.9L312.7 370.4L333 370.9L345 371.0L345 486L166 486Z" fill="#4c00ff"/>
<path d="M166 353.7L170 355.7L181.4 359.9L197.7 355.9L214 357.7L230.5 364.5L254.5 371.6L283.6 371.0L312.7 372.0L333 372.1L345 372.0L345 486L166 486Z" fill="#3c00ff"/>
<path d="M166 356.8L170 358.8L181.4 362.2L197.7 358.2L214 361.0L230.5 368.4L254.5 374.3L283.6 373.2L312.7 373.5L333 373.2L345 373.0L345 486L166 486Z" fill="#2a00ff"/>
<path d="M166 359.9L170 361.9L181.4 364.5L197.7 360.5L214 364.3L230.5 372.3L254.5 377.0L283.6 375.3L312.7 375.1L333 374.4L345 374.0L345 486L166 486Z" fill="#1900ff"/>
<path d="M166 362.9L170 364.9L181.4 366.7L197.7 362.7L214 367.7L230.5 376.1L254.5 379.8L283.6 377.5L312.7 376.6L333 375.5L345 375.0L345 486L166 486Z" fill="#0800ff"/>
<path d="M166 366.0L170 368.0L181.4 369.0L197.7 365.0L214 371.0L230.5 380.0L254.5 382.5L283.6 379.6L312.7 378.2L333 376.7L345 376.0L345 486L166 486Z" fill="#0008ff"/>
<path d="M166 367.3L170 369.2L181.4 370.0L197.7 366.6L214 373.1L230.5 381.9L254.5 384.2L283.6 381.4L312.7 379.9L333 378.4L345 377.6L345 486L166 486Z" fill="#0019ff"/>
<path d="M166 368.5L170 370.4L181.4 371.1L197.7 368.1L214 375.1L230.5 383.9L254.5 386.0L283.6 383.3L312.7 381.7L333 380.0L345 379.2L345 486L166 486Z" fill="#002bff"/>
<path d="M166 369.8L170 371.6L181.4 372.1L197.7 369.7L214 377.2L230.5 385.8L254.5 387.7L283.6 385.1L312.7 383.4L333 381.7L345 380.8L345 486L166 486Z" fill="#003cff"/>
<path d="M166 371.1L170 372.8L181.4 373.1L197.7 371.3L214 379.3L230.5 387.7L254.5 389.5L283.6 387.0L312.7 385.2L333 383.3L345 382.4L345 486L166 486Z" fill="#004cff"/>
<path d="M166 372.3L170 374.0L181.4 374.2L197.7 372.9L214 381.3L230.5 389.7L254.5 391.2L283.6 388.8L312.7 386.9L333 385.0L345 384.0L345 486L166 486Z" fill="#005eff"/>
<path d="M166 373.6L170 375.2L181.4 375.2L197.7 374.4L214 383.4L230.5 391.6L254.5 393.0L283.6 390.7L312.7 388.7L333 386.6L345 385.6L345 486L166 486Z" fill="#006fff"/>
<path d="M166 374.9L170 376.4L181.4 376.2L197.7 376.0L214 385.5L230.5 393.5L254.5 394.7L283.6 392.5L312.7 390.4L333 388.3L345 387.2L345 486L166 486Z" fill="#0080ff"/>
<path d="M166 376.1L170 377.6L181.4 377.3L197.7 377.6L214 387.5L230.5 395.5L254.5 396.5L283.6 394.4L312.7 392.2L333 389.9L345 388.8L345 486L166 486Z" fill="#0091ff"/>
<path d="M166 377.4L170 378.8L181.4 378.3L197.7 379.2L214 389.6L230.5 397.4L254.5 398.2L283.6 396.2L312.7 393.9L333 391.6L345 390.4L345 486L166 486Z" fill="#00a2ff"/>
<path d="M166 378.7L170 380.0L181.4 379.3L197.7 380.7L214 391.7L230.5 399.3L254.5 400.0L283.6 398.1L312.7 395.7L333 393.2L345 392.0L345 486L166 486Z" fill="#00b2ff"/>
<path d="M166 379.9L170 381.2L181.4 380.4L197.7 382.3L214 393.7L230.5 401.3L254.5 401.7L283.6 399.9L312.7 397.4L333 394.9L345 393.6L345 486L166 486Z" fill="#00c3ff"/>
<path d="M166 381.2L170 382.4L181.4 381.4L197.7 383.9L214 395.8L230.5 403.2L254.5 403.5L283.6 401.8L312.7 399.2L333 396.5L345 395.2L345 486L166 486Z" fill="#00d4ff"/>
<path d="M166 382.5L170 383.6L181.4 382.4L197.7 385.5L214 397.9L230.5 405.1L254.5 405.2L283.6 403.6L312.7 400.9L333 398.2L345 396.8L345 486L166 486Z" fill="#00e5ff"/>
<path d="M166 383.7L170 384.8L181.4 383.5L197.7 387.0L214 399.9L230.5 407.1L254.5 407.0L283.6 405.5L312.7 402.7L333 399.8L345 398.4L345 486L166 486Z" fill="#00f7ff"/>
<path d="M166 385.0L170 386.0L181.4 384.5L197.7 388.6L214 402.0L230.5 409.0L254.5 408.7L283.6 407.3L312.7 404.4L333 401.5L345 400.0L345 486L166 486Z" fill="#00fff7"/>
<path d="M166 385.9L170 386.9L181.4 385.4L197.7 389.6L214 403.2L230.5 410.1L254.5 409.9L283.6 408.4L312.7 405.5L333 402.6L345 401.1L345 486L166 486Z" fill="#00ffe5"/>
<path d="M166 386.7L170 387.7L181.4 386.3L197.7 390.6L214 404.4L230.5 411.2L254.5 411.0L283.6 409.4L312.7 406.5L333 403.6L345 402.1L345 486L166 486Z" fill="#00ffd4"/>
<path d="M166 387.6L170 388.6L181.4 387.2L197.7 391.6L214 405.6L230.5 412.3L254.5 412.2L283.6 410.5L312.7 407.6L333 404.7L345 403.2L345 486L166 486Z" fill="#00ffc3"/>
<path d="M166 388.5L170 389.5L181.4 388.1L197.7 392.6L214 406.8L230.5 413.4L254.5 413.3L283.6 411.6L312.7 408.7L333 405.8L345 404.3L345 486L166 486Z" fill="#00ffb3"/>
<path d="M166 389.3L170 390.3L181.4 389.0L197.7 393.6L214 408.0L230.5 414.5L254.5 414.5L283.6 412.6L312.7 409.7L333 406.8L345 405.3L345 486L166 486Z" fill="#00ffa2"/>
<path d="M166 390.2L170 391.2L181.4 389.9L197.7 394.6L214 409.2L230.5 415.6L254.5 415.6L283.6 413.7L312.7 410.8L333 407.9L345 406.4L345 486L166 486Z" fill="#00ff90"/>
<path d="M166 391.1L170 392.1L181.4 390.8L197.7 395.6L214 410.4L230.5 416.7L254.5 416.8L283.6 414.8L312.7 411.9L333 409.0L345 407.5L345 486L166 486Z" fill="#00ff80"/>
<path d="M166 391.9L170 392.9L181.4 391.7L197.7 396.6L214 411.6L230.5 417.8L254.5 417.9L283.6 415.8L312.7 412.9L333 410.0L345 408.5L345 486L166 486Z" fill="#00ff6f"/>
<path d="M166 392.8L170 393.8L181.4 392.6L197.7 397.6L214 412.8L230.5 418.9L254.5 419.1L283.6 416.9L312.7 414.0L333 411.1L345 409.6L345 486L166 486Z" fill="#00ff5e"/>
<path d="M166 393.7L170 394.7L181.4 393.5L197.7 398.6L214 414.0L230.5 420.0L254.5 420.2L283.6 418.0L312.7 415.1L333 412.2L345 410.7L345 486L166 486Z" fill="#00ff4d"/>
<path d="M166 394.5L170 395.5L181.4 394.4L197.7 399.6L214 415.2L230.5 421.1L254.5 421.4L283.6 419.0L312.7 416.1L333 413.2L345 411.7L345 486L166 486Z" fill="#00ff3c"/>
<path d="M166 395.4L170 396.4L181.4 395.3L197.7 400.6L214 416.4L230.5 422.2L254.5 422.5L283.6 420.1L312.7 417.2L333 414.3L345 412.8L345 486L166 486Z" fill="#00ff2a"/>
<path d="M166 396.3L170 397.3L181.4 396.2L197.7 401.6L214 417.6L230.5 423.3L254.5 423.7L283.6 421.2L312.7 418.3L333 415.4L345 413.9L345 486L166 486Z" fill="#00ff19"/>
<path d="M166 397.1L170 398.1L181.4 397.1L197.7 402.6L214 418.8L230.5 424.4L254.5 424.8L283.6 422.2L312.7 419.3L333 416.4L345 414.9L345 486L166 486Z" fill="#00ff08"/>
<path d="M166 398.0L170 399.0L181.4 398.0L197.7 403.6L214 420.0L230.5 425.5L254.5 426.0L283.6 423.3L312.7 420.4L333 417.5L345 416.0L345 486L166 486Z" fill="#08ff00"/>
<path d="M166 398.6L170 399.7L181.4 398.9L197.7 405.0L214 421.4L230.5 426.8L254.5 427.1L283.6 424.4L312.7 421.4L333 418.5L345 417.0L345 486L166 486Z" fill="#1aff00"/>
<path d="M166 399.2L170 400.3L181.4 399.9L197.7 406.3L214 422.8L230.5 428.1L254.5 428.2L283.6 425.4L312.7 422.3L333 419.4L345 417.9L345 486L166 486Z" fill="#2aff00"/>
<path d="M166 399.8L170 401.0L181.4 400.8L197.7 407.7L214 424.2L230.5 429.4L254.5 429.3L283.6 426.5L312.7 423.3L333 420.4L345 418.9L345 486L166 486Z" fill="#3cff00"/>
<path d="M166 400.4L170 401.7L181.4 401.7L197.7 409.0L214 425.6L230.5 430.7L254.5 430.4L283.6 427.6L312.7 424.3L333 421.4L345 419.9L345 486L166 486Z" fill="#4dff00"/>
<path d="M166 401.0L170 402.3L181.4 402.7L197.7 410.4L214 427.0L230.5 432.0L254.5 431.5L283.6 428.6L312.7 425.3L333 422.3L345 420.8L345 486L166 486Z" fill="#5eff00"/>
<path d="M166 401.6L170 403.0L181.4 403.6L197.7 411.8L214 428.4L230.5 433.3L254.5 432.6L283.6 429.7L312.7 426.2L333 423.3L345 421.8L345 486L166 486Z" fill="#6eff00"/>
<path d="M166 402.2L170 403.7L181.4 404.5L197.7 413.1L214 429.8L230.5 434.6L254.5 433.7L283.6 430.8L312.7 427.2L333 424.3L345 422.8L345 486L166 486Z" fill="#80ff00"/>
<path d="M166 402.8L170 404.3L181.4 405.5L197.7 414.5L214 431.2L230.5 435.9L254.5 434.8L283.6 431.8L312.7 428.2L333 425.2L345 423.7L345 486L166 486Z" fill="#90ff00"/>
<path d="M166 403.4L170 405.0L181.4 406.4L197.7 415.8L214 432.6L230.5 437.2L254.5 435.9L283.6 432.9L312.7 429.2L333 426.2L345 424.7L345 486L166 486Z" fill="#a2ff00"/>
<path d="M166 404.0L170 405.7L181.4 407.3L197.7 417.2L214 434.0L230.5 438.5L254.5 437.0L283.6 434.0L312.7 430.1L333 427.2L345 425.7L345 486L166 486Z" fill="#b2ff00"/>
<path d="M166 404.6L170 406.3L181.4 408.3L197.7 418.6L214 435.4L230.5 439.8L254.5 438.1L283.6 435.0L312.7 431.1L333 428.1L345 426.6L345 486L166 486Z" fill="#c3ff00"/>
<path d="M166 405.2L170 407.0L181.4 409.2L197.7 419.9L214 436.8L230.5 441.1L254.5 439.2L283.6 436.1L312.7 432.1L333 429.1L345 427.6L345 486L166 486Z" fill="#d4ff00"/>
<path d="M166 405.8L170 407.7L181.4 410.1L197.7 421.3L214 438.2L230.5 442.4L254.5 440.3L283.6 437.2L312.7 433.1L333 430.1L345 428.6L345 486L166 486Z" fill="#e6ff00"/>
<path d="M166 406.4L170 408.3L181.4 411.1L197.7 422.6L214 439.6L230.5 443.7L254.5 441.4L283.6 438.2L312.7 434.0L333 431.0L345 429.5L345 486L166 486Z" fill="#f7ff00"/>
<path d="M166 407.0L170 409.0L181.4 412.0L197.7 424.0L214 441.0L230.5 445.0L254.5 442.5L283.6 439.3L312.7 435.0L333 432.0L345 430.5L345 486L166 486Z" fill="#fff700"/>
<path d="M166 407.5L170 409.7L181.4 412.9L197.7 425.6L214 443.1L230.5 446.7L254.5 444.0L283.6 440.7L312.7 436.5L333 433.5L345 432.0L345 486L166 486Z" fill="#ffe500"/>
<path d="M166 408.1L170 410.3L181.4 413.9L197.7 427.2L214 445.1L230.5 448.3L254.5 445.6L283.6 442.0L312.7 438.1L333 435.1L345 433.6L345 486L166 486Z" fill="#ffd400"/>
<path d="M166 408.6L170 411.0L181.4 414.8L197.7 428.8L214 447.2L230.5 450.0L254.5 447.1L283.6 443.4L312.7 439.6L333 436.6L345 435.1L345 486L166 486Z" fill="#ffc300"/>
<path d="M166 409.1L170 411.7L181.4 415.7L197.7 430.4L214 449.3L230.5 451.7L254.5 448.6L283.6 444.7L312.7 441.1L333 438.2L345 436.6L345 486L166 486Z" fill="#ffb200"/>
<path d="M166 409.7L170 412.3L181.4 416.7L197.7 432.0L214 451.3L230.5 453.3L254.5 450.2L283.6 446.1L312.7 442.7L333 439.7L345 438.2L345 486L166 486Z" fill="#ffa200"/>
<path d="M166 410.2L170 413.0L181.4 417.6L197.7 433.6L214 453.4L230.5 455.0L254.5 451.7L283.6 447.5L312.7 444.2L333 441.3L345 439.7L345 486L166 486Z" fill="#ff9000"/>
<path d="M166 410.7L170 413.7L181.4 418.5L197.7 435.2L214 455.5L230.5 456.7L254.5 453.2L283.6 448.8L312.7 445.7L333 442.8L345 441.2L345 486L166 486Z" fill="#ff8000"/>
<path d="M166 411.5L170 414.6L181.4 419.7L197.7 436.8L214 457.3L230.5 458.3L254.5 454.7L283.6 450.3L312.7 447.3L333 444.4L345 442.8L345 486L166 486Z" fill="#ff6e00"/>
<path d="M166 412.6L170 415.8L181.4 421.0L197.7 438.4L214 458.9L230.5 459.8L254.5 456.2L283.6 451.8L312.7 448.9L333 446.0L345 444.4L345 486L166 486Z" fill="#ff5e00"/>
<path d="M166 413.7L170 417.0L181.4 422.3L197.7 440.0L214 460.5L230.5 461.3L254.5 457.7L283.6 453.3L312.7 450.4L333 447.5L345 446.0L345 486L166 486Z" fill="#ff4d00"/>
<path d="M166 414.7L170 418.2L181.4 423.7L197.7 441.6L214 462.1L230.5 462.9L254.5 459.1L283.6 454.9L312.7 452.0L333 449.1L345 447.6L345 486L166 486Z" fill="#ff3c00"/>
<path d="M166 415.8L170 419.4L181.4 425.0L197.7 443.2L214 463.7L230.5 464.4L254.5 460.6L283.6 456.4L312.7 453.6L333 450.7L345 449.2L345 486L166 486Z" fill="#ff2a00"/>
<path d="M166 416.9L170 420.6L181.4 426.3L197.7 444.8L214 465.3L230.5 465.9L254.5 462.1L283.6 457.9L312.7 455.2L333 452.3L345 450.8L345 486L166 486Z" fill="#ff1900"/>
<path d="M166 417.9L170 421.8L181.4 427.7L197.7 446.4L214 466.9L230.5 467.5L254.5 463.5L283.6 459.5L312.7 456.7L333 453.8L345 452.4L345 486L166 486Z" fill="#ff0800"/>
<path d="M166 419.0L170 423.0L181.4 429.0L197.7 448.0L214 468.5L230.5 469.0L254.5 465.0L283.6 461.0L312.7 458.3L333 455.4L345 454.0L345 486L166 486Z" fill="#ff0000"/>
</g>
<path clip-path="url(#sil)" d="M203.3 472.9L203.1 471.7L202.8 469.6L202.6 467.6L202.3 465.6L202.1 463.5L201.8 461.4L201.5 459.4L201.3 457.5L201.0 455.7L200.7 453.9L200.5 452.2L200.2 450.7L200.0 449.5L199.7 448.6L199.5 447.8L199.3 447.1L199.0 446.5L198.8 445.8L198.4 444.7L197.9 443.2L197.2 441.4L196.5 439.4L195.7 437.5L194.9 435.7L194.1 433.9L193.2 432.2L192.3 430.5L191.4 428.8L190.4 427.1L189.4 425.5L188.4 423.9L187.4 422.2L186.4 420.6L185.4 418.8L184.3 417.1L183.2 415.3L182.2 414.1L181.1 413.0L180.0 411.8L178.9 410.5L177.8 409.3L176.7 408.1L175.6 406.9L174.4 405.6L173.3 404.4L172.2 403.1L171.0 401.9L169.9 400.6M211.9 473.4L211.7 471.8L211.4 469.6L211.2 467.4L210.9 465.3L210.6 463.1L210.3 460.9L210.1 458.6L209.8 456.4L209.5 454.2L209.3 452.0L209.0 450.0L208.7 448.0L208.5 446.1L208.2 444.2L207.9 442.3L207.7 440.5L207.4 438.8L207.2 437.4L206.9 436.2L206.7 435.2L206.4 434.3L206.2 433.6L206.0 432.8L205.7 432.2L205.3 431.1L204.8 429.4L204.1 427.5L203.4 425.4L202.6 423.2L201.7 420.8L200.9 418.7L200.0 416.6L199.0 414.5L198.1 412.4L197.1 410.5L196.1 408.6L195.1 406.7L194.1 404.9L193.0 403.0L192.0 401.2L190.9 399.5L189.8 397.8L188.7 396.0L187.6 394.2L186.5 392.4L185.3 390.5L184.2 388.7L183.0 386.9L181.9 385.0L180.7 383.9L179.6 382.7L178.4 381.5L177.2 380.3L176.1 379.1M220.1 473.5L220.1 473.1L219.8 470.8L219.5 468.5L219.3 466.3L219.0 464.0L218.7 461.8L218.4 459.5L218.2 457.2L217.9 454.8L217.6 452.5L217.4 450.2L217.1 447.9L216.8 445.7L216.6 443.6L216.3 441.6L216.0 439.6L215.8 437.6L215.5 435.6L215.2 433.6L215.0 431.8L214.7 430.1L214.4 428.6L214.2 427.3L213.9 426.2L213.7 425.3L213.4 424.4L213.2 423.6L213.0 422.9L212.7 422.2L212.3 421.0L211.7 419.4L211.1 417.4L210.3 415.3L209.5 413.0L208.7 410.5L207.8 408.0L206.9 405.7L205.9 403.5L205.0 401.3L204.0 399.1L203.0 397.0L201.9 395.0L200.9 393.0L199.8 391.0L198.7 389.1L197.6 387.2L196.5 385.3L195.4 383.5L194.2 381.7L193.1 380.0L191.9 378.1L190.8 376.2L189.6 374.5L188.4 372.5L187.2 370.6L186.0 368.8L184.8 366.8L183.6 365.1L182.5 363.9M228.0 473.3L227.9 472.3L227.7 470.0L227.4 467.7L227.1 465.3L226.8 463.0L226.6 460.7L226.3 458.3L226.0 455.9L225.8 453.5L225.5 451.1L225.2 448.7L224.9 446.3L224.7 444.0L224.4 441.7L224.1 439.6L223.9 437.5L223.6 435.4L223.3 433.4L223.1 431.3L222.8 429.3L222.5 427.4L222.3 425.6L222.0 423.9L221.8 422.5L221.5 421.3L221.2 420.2L221.0 419.3L220.7 418.4L220.5 417.6L220.3 416.9L220.0 416.2L219.8 415.5L219.4 414.3L218.8 412.6L218.1 410.6L217.3 408.4L216.5 406.1L215.7 403.6L214.8 401.0L213.8 398.6L212.9 396.4L211.9 394.1L210.9 391.8L209.9 389.6L208.8 387.5L207.7 385.5L206.7 383.5L205.6 381.5L204.4 379.5L203.3 377.6L202.2 375.7L201.0 373.9L199.9 372.1L198.7 370.3L197.5 368.4L196.3 366.5L195.1 364.8L193.9 362.8L192.7 360.9L191.5 359.0L190.2 357.1L189.0 355.1M235.7 472.8L235.5 471.1L235.3 468.7L235.0 466.3L234.7 463.9L234.5 461.5L234.2 459.1L233.9 456.7L233.6 454.2L233.4 451.7L233.1 449.2L232.8 446.8L232.5 444.3L232.3 441.9L232.0 439.6L231.7 437.4L231.5 435.3L231.2 433.1L230.9 431.0L230.7 428.9L230.4 426.8L230.1 424.8L229.9 422.9L229.6 421.2L229.3 419.6L229.1 418.3L228.8 417.2L228.6 416.2L228.3 415.3L228.1 414.4L227.8 413.6L227.6 412.9L227.3 412.2L227.1 411.5L226.8 410.7L226.4 409.5L225.8 407.8L225.1 405.8L224.4 403.6L223.6 401.2L222.7 398.6L221.8 396.1L220.8 393.7L219.9 391.4L218.9 389.1L217.8 386.8L216.8 384.6L215.7 382.5L214.6 380.5L213.5 378.4L212.4 376.4L211.3 374.4L210.2 372.5L209.0 370.6L207.8 368.7L206.6 366.9L205.5 365.2L204.3 363.2L203.0 361.3L201.8 359.6L200.6 357.7L199.4 355.7L198.1 353.8L196.9 351.9L195.6 349.9M243.2 472.1L243.1 471.2L242.9 468.8L242.6 466.3L242.3 463.9L242.1 461.4L241.8 459.0L241.5 456.5L241.2 454.0L241.0 451.4L240.7 448.9L240.4 446.3L240.2 443.8L239.9 441.3L239.6 438.9L239.3 436.6L239.1 434.4L238.8 432.2L238.5 430.0L238.3 427.8L238.0 425.7L237.7 423.6L237.5 421.6L237.2 419.7L236.9 418.0L236.7 416.5L236.4 415.2L236.2 414.2L235.9 413.2L235.6 412.3L235.4 411.5L235.1 410.7L234.9 409.9L234.6 409.2L234.4 408.5L234.1 407.7L233.9 407.0L233.5 405.7L232.9 404.0L232.2 402.0L231.4 399.8L230.6 397.3L229.7 394.7L228.8 392.2L227.8 389.8L226.8 387.6L225.8 385.2L224.8 382.9L223.7 380.7L222.7 378.6L221.6 376.6L220.4 374.5L219.3 372.5L218.2 370.6L217.0 368.6L215.8 366.7L214.6 364.8L213.4 363.1L212.2 361.3L211.0 359.3L209.8 357.4L208.6 355.6L207.3 353.7L206.1 351.7L204.8 349.8L203.5 347.9L202.3 345.9M250.6 471.3L250.5 469.9L250.2 467.4L249.9 464.9L249.6 462.4L249.4 459.9L249.1 457.4L248.8 454.9L248.6 452.3L248.3 449.7L248.0 447.1L247.7 444.5L247.5 442.0L247.2 439.4L246.9 437.0L246.7 434.6L246.4 432.4L246.1 430.2L245.8 427.9L245.6 425.7L245.3 423.5L245.0 421.4L244.8 419.3L244.5 417.5L244.2 415.7L244.0 414.2L243.7 413.0L243.5 411.9L243.2 410.9L242.9 410.0L242.7 409.2L242.4 408.4L242.2 407.6L241.9 406.9L241.7 406.2L241.4 405.4L241.2 404.7L240.9 403.9L240.5 402.6L239.9 400.9L239.2 398.8L238.4 396.6L237.6 394.1L236.7 391.5L235.8 389.0L234.8 386.7L233.8 384.4L232.8 382.1L231.7 379.8L230.7 377.6L229.6 375.5L228.4 373.5L227.3 371.4L226.2 369.4L225.0 367.4L223.8 365.5L222.6 363.5L221.4 361.7L220.2 359.9L219.0 358.1L217.8 356.1L216.5 354.3L215.3 352.5L214.0 350.5L212.8 348.5L211.5 346.6L210.2 344.7L208.9 342.7M257.9 470.4L257.7 469.4L257.5 466.8L257.2 464.3L256.9 461.8L256.7 459.2L256.4 456.7L256.1 454.1L255.9 451.5L255.6 448.9L255.3 446.2L255.0 443.6L254.8 440.9L254.5 438.4L254.2 435.9L254.0 433.5L253.7 431.2L253.4 428.9L253.1 426.6L252.9 424.4L252.6 422.1L252.3 419.9L252.1 417.9L251.8 415.9L251.5 414.2L251.3 412.6L251.0 411.3L250.8 410.2L250.5 409.1L250.2 408.2L250.0 407.4L249.7 406.6L249.5 405.8L249.2 405.0L248.9 404.3L248.7 403.5L248.4 402.8L248.2 402.0L247.9 401.2L247.5 400.0L246.9 398.2L246.2 396.1L245.4 393.8L244.5 391.3L243.7 388.7L242.7 386.3L241.7 384.0L240.7 381.7L239.7 379.3L238.6 377.0L237.6 374.9L236.4 372.8L235.3 370.7L234.2 368.7L233.0 366.7L231.8 364.7L230.7 362.7L229.4 360.8L228.2 359.0L227.0 357.2L225.8 355.4L224.5 353.4L223.3 351.5L222.0 349.7L220.7 347.8L219.4 345.7L218.1 343.8L216.8 341.9L215.5 339.9M265.0 469.5L265.0 469.4L264.7 466.8L264.5 464.2L264.2 461.7L263.9 459.1L263.7 456.5L263.4 453.9L263.1 451.3L262.9 448.6L262.6 445.9L262.3 443.2L262.0 440.5L261.8 437.9L261.5 435.3L261.2 432.8L261.0 430.4L260.7 428.1L260.4 425.8L260.2 423.5L259.9 421.2L259.6 419.0L259.4 416.8L259.1 414.8L258.8 412.9L258.6 411.2L258.3 409.8L258.0 408.6L257.8 407.5L257.5 406.6L257.2 405.7L257.0 404.8L256.7 404.0L256.5 403.3L256.2 402.5L255.9 401.8L255.7 401.0L255.4 400.2L255.2 399.4L254.9 398.6L254.5 397.4L253.9 395.6L253.1 393.5L252.3 391.2L251.5 388.6L250.6 386.1L249.6 383.7L248.7 381.3L247.6 379.0L246.6 376.7L245.5 374.4L244.4 372.2L243.3 370.1L242.2 368.0L241.0 366.0L239.8 364.0L238.6 362.0L237.4 360.1L236.2 358.1L235.0 356.3L233.7 354.5L232.5 352.6L231.2 350.7L229.9 348.8L228.7 347.0L227.4 345.0L226.1 343.0L224.8 341.1L223.5 339.1L222.1 337.1M272.1 468.5L272.0 467.3L271.7 464.6L271.4 462.0L271.2 459.4L270.9 456.8L270.6 454.2L270.4 451.5L270.1 448.8L269.8 446.1L269.6 443.4L269.3 440.6L269.0 437.9L268.8 435.3L268.5 432.7L268.2 430.2L267.9 427.9L267.7 425.6L267.4 423.2L267.1 420.9L266.9 418.6L266.6 416.3L266.3 414.2L266.1 412.2L265.8 410.4L265.5 408.8L265.3 407.4L265.0 406.3L264.7 405.3L264.5 404.3L264.2 403.5L264.0 402.6L263.7 401.8L263.4 401.1L263.2 400.3L262.9 399.6L262.6 398.8L262.4 398.0L262.1 397.2L261.9 396.4L261.4 395.1L260.8 393.4L260.1 391.2L259.3 388.9L258.4 386.3L257.5 383.7L256.6 381.4L255.6 379.0L254.5 376.7L253.5 374.3L252.4 372.0L251.3 369.9L250.1 367.8L249.0 365.7L247.8 363.7L246.6 361.6L245.4 359.7L244.2 357.7L243.0 355.8L241.7 353.9L240.5 352.2L239.2 350.3L237.9 348.3L236.6 346.5L235.3 344.6L234.0 342.6L232.7 340.6L231.4 338.7L230.0 336.7L228.7 334.7M279.1 467.5L278.9 465.4L278.6 462.7L278.4 460.1L278.1 457.5L277.8 454.8L277.6 452.2L277.3 449.5L277.0 446.8L276.8 444.0L276.5 441.3L276.2 438.6L276.0 435.9L275.7 433.2L275.4 430.7L275.2 428.2L274.9 425.9L274.6 423.5L274.4 421.2L274.1 418.8L273.8 416.5L273.6 414.3L273.3 412.2L273.0 410.2L272.8 408.5L272.5 407.0L272.2 405.7L272.0 404.6L271.7 403.6L271.4 402.7L271.2 401.9L270.9 401.0L270.6 400.3L270.4 399.5L270.1 398.7L269.8 398.0L269.6 397.2L269.3 396.4L269.0 395.6L268.8 394.8L268.3 393.5L267.7 391.8L267.0 389.6L266.2 387.3L265.3 384.7L264.4 382.1L263.4 379.8L262.4 377.5L261.4 375.1L260.3 372.8L259.2 370.5L258.1 368.3L257.0 366.3L255.8 364.2L254.6 362.1L253.4 360.1L252.2 358.1L251.0 356.2L249.7 354.2L248.4 352.4L247.2 350.7L245.9 348.8L244.6 346.8L243.3 345.0L242.0 343.1L240.6 341.1L239.3 339.1L238.0 337.2L236.6 335.2L235.3 333.2M286.1 466.5L286.1 466.0L285.8 463.4L285.5 460.7L285.3 458.0L285.0 455.4L284.7 452.7L284.5 450.1L284.2 447.3L284.0 444.6L283.7 441.8L283.4 439.0L283.2 436.3L282.9 433.6L282.6 431.0L282.4 428.4L282.1 426.0L281.8 423.7L281.6 421.3L281.3 418.9L281.0 416.6L280.8 414.3L280.5 412.1L280.2 410.1L279.9 408.2L279.7 406.6L279.4 405.2L279.1 404.1L278.9 403.0L278.6 402.1L278.3 401.2L278.1 400.3L277.8 399.6L277.5 398.8L277.3 398.0L277.0 397.2L276.7 396.4L276.5 395.6L276.2 394.8L275.9 394.1L275.7 393.3L275.2 392.0L274.6 390.2L273.9 388.1L273.1 385.7L272.2 383.1L271.2 380.6L270.3 378.3L269.3 376.0L268.2 373.6L267.1 371.3L266.0 369.1L264.9 366.9L263.7 364.9L262.6 362.8L261.4 360.7L260.2 358.8L258.9 356.8L257.7 354.8L256.4 352.9L255.1 351.2L253.8 349.4L252.5 347.4L251.2 345.5L249.9 343.7L248.6 341.8L247.2 339.8L245.9 337.8L244.5 335.9L243.2 333.9L241.8 332.0M293.1 465.5L292.9 463.9L292.7 461.2L292.4 458.5L292.2 455.8L291.9 453.1L291.6 450.4L291.4 447.7L291.1 444.9L290.8 442.1L290.6 439.3L290.3 436.5L290.0 433.7L289.8 431.0L289.5 428.4L289.2 425.9L289.0 423.5L288.7 421.1L288.4 418.7L288.2 416.3L287.9 414.0L287.6 411.7L287.4 409.6L287.1 407.7L286.8 406.0L286.6 404.5L286.3 403.3L286.0 402.3L285.8 401.3L285.5 400.4L285.2 399.5L285.0 398.7L284.7 397.9L284.4 397.2L284.1 396.4L283.9 395.6L283.6 394.8L283.3 394.0L283.1 393.2L282.8 392.4L282.5 391.6L282.1 390.3L281.5 388.5L280.7 386.3L279.9 383.9L279.0 381.4L278.1 379.0L277.1 376.7L276.1 374.4L275.0 372.0L273.9 369.7L272.8 367.5L271.7 365.4L270.5 363.3L269.3 361.3L268.1 359.3L266.9 357.3L265.6 355.3L264.4 353.4L263.1 351.5L261.8 349.8L260.5 347.9L259.2 345.9L257.8 344.1L256.5 342.3L255.2 340.3L253.8 338.3L252.4 336.4L251.1 334.4L249.7 332.3L248.3 331.0M300.1 464.5L300.1 464.5L299.8 461.7L299.5 458.9L299.3 456.2L299.0 453.5L298.7 450.7L298.5 448.0L298.2 445.1L298.0 442.3L297.7 439.4L297.4 436.5L297.2 433.7L296.9 430.9L296.6 428.3L296.4 425.7L296.1 423.2L295.8 420.8L295.6 418.3L295.3 415.9L295.0 413.5L294.8 411.2L294.5 409.0L294.2 407.0L294.0 405.3L293.7 403.8L293.4 402.5L293.2 401.4L292.9 400.4L292.6 399.5L292.4 398.7L292.1 397.8L291.8 397.0L291.5 396.3L291.3 395.5L291.0 394.7L290.7 393.8L290.5 393.0L290.2 392.2L289.9 391.4L289.6 390.6L289.4 389.8L288.9 388.6L288.3 386.7L287.5 384.5L286.7 382.0L285.8 379.6L284.9 377.2L283.9 375.0L282.8 372.7L281.8 370.3L280.7 368.0L279.6 365.9L278.4 363.8L277.2 361.8L276.0 359.7L274.8 357.7L273.5 355.8L272.3 353.8L271.0 351.9L269.7 350.1L268.4 348.3L267.1 346.4L265.8 344.4L264.4 342.6L263.1 340.7L261.7 338.7L260.3 336.7L259.0 334.8L257.6 332.7L256.2 331.1L254.8 330.1M307.0 463.6L306.9 462.2L306.6 459.4L306.3 456.6L306.1 453.8L305.8 451.0L305.6 448.2L305.3 445.3L305.0 442.4L304.8 439.4L304.5 436.5L304.3 433.6L304.0 430.8L303.7 428.0L303.5 425.3L303.2 422.8L302.9 420.3L302.7 417.8L302.4 415.3L302.2 412.8L301.9 410.4L301.6 408.2L301.4 406.1L301.1 404.3L300.8 402.8L300.5 401.5L300.3 400.4L300.0 399.4L299.7 398.5L299.5 397.6L299.2 396.8L298.9 396.0L298.6 395.2L298.4 394.4L298.1 393.5L297.8 392.7L297.5 391.8L297.3 391.0L297.0 390.2L296.7 389.4L296.4 388.6L296.2 387.8L295.7 386.5L295.1 384.6L294.3 382.3L293.5 379.9L292.6 377.6L291.6 375.3L290.6 373.0L289.6 370.7L288.5 368.3L287.4 366.2L286.3 364.1L285.1 362.0L283.9 359.9L282.7 357.9L281.5 355.9L280.2 354.0L278.9 352.0L277.6 350.2L276.3 348.4L275.0 346.5L273.7 344.5L272.3 342.7L271.0 340.8L269.6 338.8L268.2 336.8L266.9 334.9L265.5 332.9L264.4 331.4M313.9 462.6L313.6 459.9L313.4 457.0L313.1 454.1L312.9 451.2L312.6 448.3L312.4 445.4L312.1 442.4L311.8 439.4L311.6 436.4L311.3 433.3L311.1 430.4L310.8 427.5L310.6 424.7L310.3 422.0L310.0 419.5L309.8 416.9L309.5 414.3L309.2 411.7L309.0 409.2L308.7 406.9L308.4 404.8L308.2 402.9L307.9 401.3L307.6 400.0L307.4 398.8L307.1 397.8L306.8 396.8L306.5 395.9L306.3 395.1L306.0 394.3L305.7 393.4L305.4 392.6L305.2 391.7L304.9 390.9L304.6 390.0L304.3 389.2L304.1 388.4L303.8 387.6L303.5 386.8L303.2 385.9L303.0 385.1L302.5 383.8L301.9 381.8L301.1 379.5L300.3 377.1L299.3 374.8L298.4 372.5L297.4 370.2L296.3 367.9L295.2 365.6L294.1 363.5L293.0 361.4L291.8 359.3L290.6 357.2L289.3 355.2L288.1 353.2L286.8 351.3L285.5 349.3L284.2 347.6L282.9 345.8L281.6 343.8L280.2 341.8L278.9 340.0L277.5 338.0L276.1 336.0L274.7 334.0L273.9 332.9M320.7 461.7L320.7 460.7L320.4 457.7L320.1 454.7L319.9 451.7L319.6 448.7L319.4 445.7L319.1 442.6L318.9 439.5L318.6 436.4L318.4 433.2L318.1 430.2L317.9 427.1L317.6 424.2L317.3 421.4L317.1 418.7L316.8 416.1L316.6 413.4L316.3 410.7L316.0 408.1L315.8 405.7L315.5 403.4L315.2 401.4L315.0 399.7L314.7 398.3L314.4 397.1L314.1 396.1L313.9 395.1L313.6 394.1L313.3 393.3L313.0 392.4L312.8 391.6L312.5 390.7L312.2 389.8L311.9 389.0L311.6 388.1L311.4 387.2L311.1 386.4L310.8 385.6L310.5 384.7L310.3 383.9L310.0 383.1L309.7 382.2L309.3 380.8L308.6 378.8L307.8 376.4L307.0 374.1L306.1 371.9L305.1 369.6L304.1 367.3L303.0 364.9L301.9 362.7L300.8 360.6L299.6 358.5L298.4 356.4L297.2 354.3L296.0 352.3L294.7 350.3L293.4 348.3L292.1 346.5L290.8 344.7L289.5 342.8L288.1 340.7L286.8 338.9L285.4 337.0L284.0 334.9L283.8 334.5M327.5 460.7L327.4 458.7L327.1 455.6L326.9 452.5L326.6 449.4L326.4 446.4L326.1 443.3L325.9 440.1L325.6 436.9L325.4 433.6L325.1 430.4L324.9 427.3L324.6 424.2L324.4 421.3L324.1 418.5L323.8 415.8L323.6 413.0L323.3 410.3L323.1 407.6L322.8 405.0L322.5 402.6L322.3 400.5L322.0 398.6L321.7 397.1L321.5 395.8L321.2 394.7L320.9 393.6L320.6 392.7L320.3 391.8L320.1 390.9L319.8 390.1L319.5 389.2L319.2 388.3L318.9 387.4L318.7 386.5L318.4 385.6L318.1 384.8L317.8 383.9L317.5 383.1L317.3 382.2L317.0 381.4L316.7 380.5L316.4 379.6L316.0 378.2L315.3 376.1L314.5 373.8L313.7 371.5L312.8 369.3L311.8 367.0L310.8 364.6L309.7 362.3L308.6 360.1L307.4 358.0L306.3 355.9L305.1 353.8L303.8 351.7L302.6 349.7L301.3 347.7L300.0 345.8L298.7 344.0L297.4 342.1L296.0 340.1L294.7 338.2L293.3 336.3L292.8 335.6M334.3 459.7L334.1 456.9L333.8 453.8L333.6 450.6L333.3 447.5L333.1 444.3L332.8 441.2L332.6 437.9L332.3 434.6L332.1 431.3L331.8 428.1L331.6 424.9L331.3 421.8L331.1 418.8L330.8 416.0L330.6 413.2L330.3 410.4L330.1 407.6L329.8 404.9L329.5 402.3L329.3 400.0L329.0 397.9L328.7 396.2L328.5 394.8L328.2 393.5L327.9 392.4L327.6 391.4L327.3 390.5L327.1 389.6L326.8 388.7L326.5 387.9L326.2 387.0L325.9 386.0L325.7 385.1L325.4 384.2L325.1 383.3L324.8 382.5L324.5 381.6L324.3 380.7L324.0 379.9L323.7 379.0L323.4 378.1L323.1 377.2L322.7 375.8L322.0 373.7L321.2 371.4L320.4 369.2L319.4 366.9L318.5 364.6L317.4 362.2L316.3 359.9L315.2 357.7L314.1 355.6L312.9 353.5L311.7 351.4L310.4 349.3L309.2 347.3L307.9 345.3L306.6 343.4L305.2 341.6L303.9 339.7L302.5 337.6L301.8 336.6M340.9 458.6L340.7 455.6L340.5 452.4L340.2 449.2L340.0 446.0L339.7 442.8L339.5 439.5L339.2 436.2L339.0 432.9L338.8 429.5L338.5 426.2L338.3 423.0L338.0 419.9L337.8 416.9L337.5 414.1L337.3 411.2L337.0 408.4L336.8 405.5L336.5 402.8L336.2 400.3L336.0 397.9L335.7 395.9L335.4 394.2L335.2 392.8L334.9 391.6L334.6 390.5L334.3 389.5L334.0 388.5L333.8 387.6L333.5 386.8L333.2 385.9L332.9 384.9L332.6 384.0L332.3 383.1L332.1 382.2L331.8 381.3L331.5 380.4L331.2 379.6L330.9 378.7L330.6 377.8L330.4 376.9L330.1 376.0L329.8 375.1L329.3 373.6L328.7 371.5L327.9 369.3L327.0 367.0L326.1 364.8L325.1 362.4L324.0 360.0L322.9 357.7L321.8 355.5L320.7 353.4L319.5 351.3L318.2 349.2L317.0 347.1L315.7 345.1L314.4 343.1L313.1 341.1L311.8 339.4L310.4 337.4L310.3 337.2M237.0 472.7L237.9 472.0L240.9 470.0L244.2 468.0L247.5 466.2L250.9 464.4L254.5 462.8L259.9 460.6L265.3 458.6L270.7 456.9L276.0 455.3L281.4 453.8L286.7 452.1L292.0 450.3L297.3 448.4L302.5 446.4L307.8 444.3L313.1 442.0L318.3 439.8L323.5 437.7L328.7 435.8L333.9 434.2L339.0 432.9M212.3 473.4L213.3 471.9L215.2 469.1L217.2 466.4L219.3 463.6L221.6 460.9L224.1 458.1L226.6 455.3L229.3 452.6L232.2 450.0L235.1 447.5L238.2 445.2L241.4 442.9L244.8 440.8L248.2 438.9L251.8 437.0L257.2 434.5L262.6 432.3L268.0 430.3L273.3 428.7L278.7 427.1L284.0 425.3L289.3 423.4L294.6 421.3L299.9 419.0L305.2 416.5L310.5 413.8L315.7 411.0L320.9 408.5L326.1 406.3L331.3 404.4L336.5 402.8M202.3 465.6L202.6 465.1L203.1 463.9L203.9 462.3L204.9 460.3L206.0 457.9L207.4 455.4L208.9 452.6L210.6 449.8L212.5 446.8L214.5 443.9L216.6 441.2L218.9 438.4L221.4 435.5L223.9 432.8L226.6 430.1L229.5 427.6L232.4 425.1L235.5 422.9L238.7 420.7L242.1 418.8L245.5 416.9L249.1 415.2L254.5 412.9L259.9 410.7L265.3 408.9L270.7 407.4L276.0 406.1L281.4 404.7L286.7 403.2L292.0 401.8L297.2 400.3L302.5 398.5L307.8 396.4L313.0 394.4L318.2 392.5L323.4 390.8L328.6 389.1L333.8 387.6M199.7 448.6L200.0 448.1L200.5 447.0L201.3 445.4L202.3 443.4L203.5 441.0L204.8 438.5L206.3 435.8L208.0 432.9L209.9 430.0L211.9 427.4L214.0 424.9L216.3 422.5L218.8 420.1L221.3 418.0L224.1 416.0L226.9 414.2L229.9 412.5L233.0 410.9L236.2 409.3L239.5 407.9L242.9 406.5L246.5 405.2L251.9 403.2L257.3 401.3L262.7 399.6L268.0 398.4L273.4 397.2L278.7 396.0L284.0 394.7L289.3 393.3L294.5 391.9L299.8 390.1L305.0 388.0L310.2 385.8L315.4 383.8L320.6 382.0L325.8 380.2L330.9 378.7M197.4 441.9L197.6 441.4L198.2 440.3L198.9 438.6L199.9 436.5L201.1 434.1L202.4 431.4L203.9 428.7L205.6 425.7L207.5 422.7L209.4 420.0L211.6 417.6L213.9 415.2L216.3 412.8L218.9 410.7L221.6 408.8L224.4 406.9L227.4 405.2L230.5 403.5L233.7 401.9L237.0 400.5L240.4 399.0L243.9 397.7L249.3 395.6L254.7 393.7L260.1 391.9L265.4 390.6L270.7 389.5L276.0 388.2L281.3 386.9L286.6 385.5L291.8 383.9L297.0 382.0L302.3 379.7L307.5 377.4L312.7 375.3L317.8 373.3L323.0 371.5L328.1 369.9M195.1 436.1L195.3 435.6L195.9 434.3L196.6 432.6L197.6 430.3L198.7 427.7L200.1 424.8L201.6 422.0L203.2 418.9L205.1 415.9L207.1 413.2L209.2 410.7L211.5 408.2L213.9 405.9L216.5 403.7L219.1 401.7L222.0 399.8L224.9 398.0L228.0 396.3L231.2 394.6L234.5 393.1L237.9 391.6L241.4 390.2L246.8 388.1L252.1 386.1L257.5 384.4L262.8 383.1L268.1 381.9L273.4 380.7L278.6 379.4L283.9 378.1L289.1 376.6L294.3 374.8L299.5 372.6L304.7 370.3L309.9 368.3L315.0 366.4L320.2 364.6L325.3 362.9M192.8 431.5L193.1 430.9L193.6 429.6L194.3 427.7L195.3 425.2L196.4 422.4L197.8 419.5L199.3 416.4L200.9 413.2L202.7 409.9L204.7 407.0L206.8 404.4L209.1 401.9L211.5 399.5L214.1 397.2L216.7 395.2L219.5 393.3L222.5 391.6L225.5 389.9L228.7 388.3L232.0 386.8L235.4 385.4L238.9 384.0L244.3 381.9L249.6 379.9L254.9 378.2L260.2 376.9L265.5 375.8L270.8 374.6L276.0 373.3L281.2 372.0L286.4 370.6L291.6 368.8L296.8 366.5L302.0 364.2L307.1 362.2L312.3 360.3L317.4 358.5L322.5 356.8M190.6 427.5L190.8 426.9L191.4 425.5L192.1 423.5L193.1 420.9L194.2 418.0L195.5 414.9L197.0 411.6L198.6 408.2L200.4 404.8L202.4 401.8L204.5 399.1L206.8 396.5L209.2 394.0L211.7 391.8L214.4 389.8L217.2 387.9L220.1 386.1L223.1 384.4L226.3 382.8L229.6 381.3L232.9 379.8L236.4 378.4L241.8 376.4L247.1 374.3L252.4 372.6L257.7 371.3L262.9 370.2L268.2 369.1L273.4 367.9L278.6 366.6L283.8 365.3L289.0 363.6L294.1 361.4L299.3 359.1L304.4 357.1L309.5 355.2L314.6 353.4L319.7 351.7M188.4 423.9L188.6 423.3L189.2 421.8L189.9 419.7L190.8 417.0L192.0 414.0L193.3 410.7L194.7 407.4L196.4 403.9L198.2 400.3L200.1 397.3L202.2 394.5L204.5 391.8L206.8 389.3L209.4 387.0L212.0 384.9L214.8 383.0L217.7 381.2L220.7 379.5L223.9 378.0L227.1 376.5L230.5 375.0L234.0 373.7L239.3 371.6L244.6 369.6L249.9 367.8L255.1 366.6L260.4 365.5L265.6 364.4L270.8 363.2L276.0 362.0L281.2 360.7L286.3 359.0L291.5 356.8L296.6 354.5L301.7 352.5L306.8 350.6L311.9 348.7L316.9 347.0M186.2 420.3L186.5 419.7L187.0 418.3L187.7 416.1L188.7 413.5L189.8 410.4L191.1 406.9L192.5 403.5L194.1 399.9L195.9 396.3L197.9 393.1L199.9 390.3L202.2 387.6L204.5 385.0L207.1 382.7L209.7 380.6L212.5 378.7L215.4 376.9L218.4 375.2L221.5 373.6L224.8 372.1L228.1 370.7L231.6 369.3L236.9 367.2L242.1 365.2L247.4 363.4L252.6 362.2L257.9 361.1L263.1 360.0L268.3 358.9L273.4 357.7L278.6 356.4L283.7 354.7L288.8 352.5L293.9 350.2L299.0 348.2L304.1 346.3L309.2 344.4L314.2 342.7M184.1 416.8L184.3 416.2L184.8 414.7L185.6 412.6L186.5 410.0L187.6 406.8L188.9 403.5L190.3 400.0L191.9 396.2L193.7 392.5L195.6 389.2L197.7 386.4L199.9 383.6L202.3 381.0L204.8 378.7L207.4 376.6L210.2 374.6L213.1 372.8L216.1 371.1L219.2 369.5L222.4 368.0L225.8 366.6L229.2 365.2L234.5 363.2L239.7 361.1L245.0 359.3L250.2 358.1L255.4 357.1L260.6 356.0L265.7 354.8L270.9 353.7L276.0 352.4L281.1 350.7L286.2 348.6L291.3 346.3L296.4 344.4L301.4 342.5L306.5 340.7L311.5 339.0M182.0 413.9L182.2 413.2L182.7 411.4L183.4 409.1L184.4 406.5L185.5 403.4L186.7 400.0L188.2 396.4L189.8 392.8L191.5 389.0L193.4 385.7L195.5 382.7L197.7 379.9L200.1 377.2L202.5 374.9L205.2 372.8L207.9 370.8L210.8 369.0L213.8 367.3L216.9 365.7L220.1 364.2L223.4 362.8L226.9 361.4L232.1 359.3L237.3 357.3L242.5 355.5L247.7 354.3L252.9 353.3L258.1 352.2L263.2 351.1L268.3 350.1L273.4 348.9L278.5 347.2L283.6 345.0L288.7 342.6L293.7 340.6L298.8 338.6L303.7 336.8M179.9 411.7L180.1 410.9L180.6 409.1L181.3 406.5L182.2 403.2L183.3 399.9L184.6 396.5L186.0 393.0L187.6 389.3L189.4 385.5L191.3 382.3L193.3 379.4L195.5 376.5L197.9 373.9L200.3 371.5L202.9 369.3L205.7 367.4L208.5 365.6L211.5 363.9L214.6 362.3L217.8 360.8L221.1 359.4L224.5 358.0L229.7 355.9L234.9 353.9L240.1 352.1L245.3 350.9L250.5 349.9L255.6 348.8L260.7 347.7L265.8 346.5L270.9 345.2L276.0 343.5L281.1 341.2L286.1 339.0L291.1 336.9L294.2 335.7M177.9 409.4L178.1 408.6L178.6 406.9L179.3 404.3L180.2 400.9L181.2 397.1L182.5 393.0L183.9 389.6L185.5 385.9L187.2 382.2L189.1 378.9L191.2 375.9L193.3 373.0L195.7 370.4L198.1 368.0L200.7 365.9L203.4 363.9L206.3 362.1L209.2 360.4L212.3 358.8L215.5 357.3L218.8 355.8L222.2 354.4L227.4 352.3L232.6 350.3L237.8 348.5L242.9 347.2L248.0 346.2L253.2 345.2L258.3 344.1L263.3 343.0L268.4 341.7L273.5 340.0L278.5 337.7L283.5 335.3L284.9 334.7M175.8 407.2L176.0 406.4L176.5 404.6L177.2 402.1L178.1 398.8L179.2 394.9L180.4 390.7L181.8 386.3L183.4 382.5L185.1 378.7L187.0 375.4L189.0 372.6L191.2 369.8L193.5 367.1L196.0 364.7L198.5 362.5L201.2 360.6L204.1 358.7L207.0 357.0L210.1 355.4L213.3 353.9L216.5 352.5L219.9 351.1L225.1 349.0L230.3 346.9L235.4 345.1L240.5 343.9L245.6 342.9L250.8 341.9L255.8 340.7L260.9 339.4L265.9 338.1L271.0 336.3L276.0 334.0L277.2 333.4M173.8 404.9L174.0 404.2L174.5 402.4L175.2 399.9L176.1 396.6L177.2 392.7L178.4 388.5L179.8 384.2L181.3 379.6L183.0 375.3L184.9 372.1L186.9 369.2L189.1 366.3L191.4 363.6L193.8 361.2L196.4 359.1L199.1 357.2L201.9 355.3L204.8 353.6L207.9 352.0L211.0 350.5L214.3 349.0L217.7 347.6L222.8 345.5L227.9 343.4L233.1 341.6L238.2 340.4L243.3 339.3L248.4 338.3L253.4 337.1L258.5 336.0L263.5 334.7L268.5 332.8L269.8 332.2M171.8 402.8L172.1 402.0L172.5 400.3L173.2 397.7L174.1 394.4L175.2 390.6L176.4 386.4L177.8 382.1L179.3 377.5L181.0 372.9L182.8 368.9L184.8 365.8L187.0 363.0L189.2 360.4L191.7 357.9L194.2 355.8L196.9 353.8L199.7 352.0L202.6 350.3L205.7 348.6L208.8 347.1L212.1 345.7L215.4 344.2L220.6 342.1L225.7 340.0L230.8 338.2L235.9 337.0L240.9 336.0L246.0 334.9L251.0 333.7L256.0 332.4L261.1 331.2L261.3 331.1M169.9 400.6L170.1 399.8L170.6 398.1L171.3 395.6L172.1 392.3L173.2 388.5L174.4 384.3L175.7 380.0L177.3 375.5L178.9 370.9L180.8 366.9L182.8 363.4L184.9 360.1L187.2 357.0L189.6 354.6L192.1 352.4L194.8 350.5L197.6 348.6L200.5 346.9L203.5 345.2L206.6 343.7L209.9 342.2L213.2 340.8L218.3 338.7L223.4 336.6L228.5 334.8L233.6 333.5L238.6 332.5L243.6 331.7L248.7 331.0L253.7 330.2L258.7 329.4L258.9 329.3" stroke="#808080" stroke-opacity="0.7" stroke-width="0.55" fill="none"/>
<circle cx="200" cy="353" r="1.5" fill="#000"/>
<circle cx="245" cy="348" r="1.5" fill="#000"/>
<circle cx="227" cy="372" r="1.5" fill="#000"/>
<circle cx="310.6" cy="342.5" r="1.5" fill="#000"/>
<circle cx="207.5" cy="425" r="1.5" fill="#000"/>
<circle cx="211" cy="459" r="1.5" fill="#000"/>
<circle cx="230" cy="469" r="1.5" fill="#000"/>
<circle cx="242.5" cy="470" r="1.5" fill="#000"/>
<path d="M214.2 485.9L347.6 464.4M214.2 485.9L170.9 434.3M170.9 434.3L168.1 339.2M347.6 464.4L349.6 363.8" stroke="#777" stroke-width="0.7" fill="none"/>
<path d="M170.9 434.3h-3M347.6 464.4h3M170.3 415.6h-3M348.0 444.7h3M169.8 396.8h-3M348.4 424.8h3M169.2 377.8h-3M348.8 404.7h3M168.7 358.6h-3M349.2 384.3h3M168.1 339.2h-3M349.6 363.8h3" stroke="#777" stroke-width="0.7" fill="none"/>
<text x="164.7" y="437.6" font-family='"Liberation Sans", sans-serif' font-size="9.0" text-anchor="end" fill="#222">1.1</text>
<text x="353.9" y="467.7" font-family='"Liberation Sans", sans-serif' font-size="9.0" text-anchor="start" fill="#222">1.1</text>
<text x="164.1" y="418.9" font-family='"Liberation Sans", sans-serif' font-size="9.0" text-anchor="end" fill="#222">1.3</text>
<text x="354.3" y="448.0" font-family='"Liberation Sans", sans-serif' font-size="9.0" text-anchor="start" fill="#222">1.3</text>
<text x="163.6" y="400.1" font-family='"Liberation Sans", sans-serif' font-size="9.0" text-anchor="end" fill="#222">1.5</text>
<text x="354.7" y="428.1" font-family='"Liberation Sans", sans-serif' font-size="9.0" text-anchor="start" fill="#222">1.5</text>
<text x="163.0" y="381.1" font-family='"Liberation Sans", sans-serif' font-size="9.0" text-anchor="end" fill="#222">1.7</text>
<text x="355.1" y="408.0" font-family='"Liberation Sans", sans-serif' font-size="9.0" text-anchor="start" fill="#222">1.7</text>
<text x="162.5" y="361.9" font-family='"Liberation Sans", sans-serif' font-size="9.0" text-anchor="end" fill="#222">1.9</text>
<text x="355.5" y="387.6" font-family='"Liberation Sans", sans-serif' font-size="9.0" text-anchor="start" fill="#222">1.9</text>
<text x="161.9" y="342.5" font-family='"Liberation Sans", sans-serif' font-size="9.0" text-anchor="end" fill="#222">2.1</text>
<text x="355.9" y="367.1" font-family='"Liberation Sans", sans-serif' font-size="9.0" text-anchor="start" fill="#222">2.1</text>
<text x="209.3" y="493.0" font-family='"Liberation Sans", sans-serif' font-size="9.0" text-anchor="end" fill="#222">0</text>
<text x="197.1" y="478.5" font-family='"Liberation Sans", sans-serif' font-size="9.0" text-anchor="end" fill="#222">0.02</text>
<text x="185.7" y="464.9" font-family='"Liberation Sans", sans-serif' font-size="9.0" text-anchor="end" fill="#222">0.04</text>
<text x="174.8" y="452.0" font-family='"Liberation Sans", sans-serif' font-size="9.0" text-anchor="end" fill="#222">0.06</text>
<text x="214.7" y="493.4" font-family='"Liberation Sans", sans-serif' font-size="9.0" text-anchor="start" fill="#222" transform="rotate(47 214.7 493.4)">0.25</text>
<text x="237.8" y="489.7" font-family='"Liberation Sans", sans-serif' font-size="9.0" text-anchor="start" fill="#222" transform="rotate(47 237.8 489.7)">0.5</text>
<text x="260.6" y="486.0" font-family='"Liberation Sans", sans-serif' font-size="9.0" text-anchor="start" fill="#222" transform="rotate(47 260.6 486.0)">0.75</text>
<text x="283.0" y="482.4" font-family='"Liberation Sans", sans-serif' font-size="9.0" text-anchor="start" fill="#222" transform="rotate(47 283.0 482.4)">1</text>
<text x="305.0" y="478.8" font-family='"Liberation Sans", sans-serif' font-size="9.0" text-anchor="start" fill="#222" transform="rotate(47 305.0 478.8)">1.25</text>
<text x="326.7" y="475.3" font-family='"Liberation Sans", sans-serif' font-size="9.0" text-anchor="start" fill="#222" transform="rotate(47 326.7 475.3)">1.5</text>
<text transform="translate(140.2 387.3) rotate(-90)" font-family='"Liberation Sans", sans-serif' font-size="9.6" text-anchor="middle" fill="#222" textLength="43.6" lengthAdjust="spacingAndGlyphs">a<tspan font-size="6.8" dy="2">TX,1000</tspan><tspan dy="-2"> (-)</tspan></text>
<text transform="translate(380.2 414.6) rotate(-90)" font-family='"Liberation Sans", sans-serif' font-size="9.6" text-anchor="middle" fill="#222" textLength="43.4" lengthAdjust="spacingAndGlyphs">a<tspan font-size="6.8" dy="2">TX,1000</tspan><tspan dy="-2"> (-)</tspan></text>
<text x="117.2" y="483.6" font-family='"Liberation Sans", sans-serif' font-size="9.6" text-anchor="start" fill="#222" textLength="56.4" lengthAdjust="spacingAndGlyphs">E<tspan font-size="6.8" dy="2">cyc,1</tspan><tspan dy="-2">/E</tspan><tspan font-size="6.8" dy="2">max</tspan><tspan dy="-2"> (-)</tspan></text>
<text x="303" y="506" font-family='"Liberation Sans", sans-serif' font-size="9.6" text-anchor="middle" fill="#222" transform="rotate(-9 303 506)">CSR (-)</text>
</g>
</svg></body></html>
